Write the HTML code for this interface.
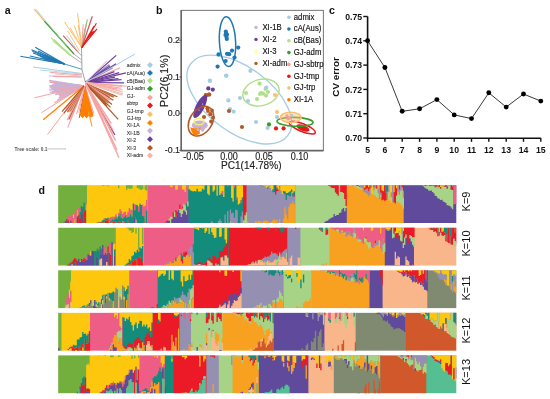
<!DOCTYPE html>
<html><head><meta charset="utf-8"><style>
html,body{margin:0;padding:0;background:#fff;}
svg{display:block;filter:blur(0.3px);font-family:"Liberation Sans",sans-serif;}
</style></head><body>
<svg width="550" height="399" viewBox="0 0 550 399">
<rect width="550" height="399" fill="#fff"/>
<g font-weight="bold" font-size="10.6" fill="#111">
<text x="4.8" y="13.9">a</text><text x="155.9" y="13.8">b</text><text x="328.9" y="13.9">c</text><text x="38.5" y="194.2">d</text>
</g>
<g>
<line x1="85.5" y1="82.5" x2="82.0" y2="70.0" stroke="#9a9a9a" stroke-width="0.90"/>
<line x1="82.0" y1="70.0" x2="81.5" y2="47.6" stroke="#9a9a9a" stroke-width="0.90"/>
<line x1="81.8" y1="47.6" x2="64.4" y2="21.9" stroke="#fdbf6f" stroke-width="1.00"/>
<line x1="81.8" y1="47.6" x2="70.0" y2="27.6" stroke="#fdbf6f" stroke-width="1.00"/>
<line x1="81.8" y1="47.6" x2="74.4" y2="25.7" stroke="#fdbf6f" stroke-width="1.00"/>
<line x1="81.8" y1="47.6" x2="77.6" y2="13.1" stroke="#fdbf6f" stroke-width="1.00"/>
<line x1="81.8" y1="47.6" x2="78.2" y2="25.0" stroke="#fdbf6f" stroke-width="1.00"/>
<line x1="81.8" y1="47.6" x2="83.2" y2="24.4" stroke="#f8a3a2" stroke-width="1.10"/>
<line x1="81.8" y1="47.6" x2="86.3" y2="23.8" stroke="#f8a3a2" stroke-width="1.10"/>
<line x1="81.8" y1="47.6" x2="85.0" y2="28.0" stroke="#f8a3a2" stroke-width="1.10"/>
<line x1="81.8" y1="47.6" x2="87.3" y2="19.4" stroke="#8fbf7a" stroke-width="1.10"/>
<line x1="81.8" y1="47.6" x2="92.3" y2="16.3" stroke="#d9505a" stroke-width="1.20"/>
<line x1="81.8" y1="47.6" x2="96.4" y2="23.2" stroke="#e31a1c" stroke-width="1.10"/>
<line x1="81.8" y1="47.6" x2="97.0" y2="28.8" stroke="#e31a1c" stroke-width="1.10"/>
<line x1="81.8" y1="47.6" x2="94.0" y2="26.0" stroke="#e31a1c" stroke-width="1.10"/>
<polygon points="84,43 91,32 96.5,30" fill="#e31a1c"/>
<line x1="34.2" y1="9.0" x2="44.3" y2="21.0" stroke="#fdbf6f" stroke-width="1.20"/>
<line x1="44.3" y1="21.0" x2="74.0" y2="54.0" stroke="#33a02c" stroke-width="1.20"/>
<line x1="74.0" y1="54.0" x2="81.7" y2="60.0" stroke="#9a9a9a" stroke-width="0.80"/>
<line x1="36.2" y1="9.5" x2="46.0" y2="21.5" stroke="#a6cee3" stroke-width="0.90"/>
<line x1="46.0" y1="21.5" x2="66.5" y2="46.0" stroke="#9cc38a" stroke-width="0.80"/>
<line x1="51.0" y1="37.6" x2="70.0" y2="55.0" stroke="#b2df8a" stroke-width="1.10"/>
<line x1="52.6" y1="40.6" x2="70.0" y2="55.0" stroke="#b2df8a" stroke-width="1.10"/>
<line x1="54.0" y1="39.5" x2="70.0" y2="55.0" stroke="#b2df8a" stroke-width="1.10"/>
<line x1="56.0" y1="42.0" x2="70.0" y2="55.0" stroke="#b2df8a" stroke-width="1.10"/>
<line x1="70.0" y1="55.0" x2="81.8" y2="63.0" stroke="#9a9a9a" stroke-width="0.80"/>
<line x1="63.1" y1="35.7" x2="78.0" y2="52.0" stroke="#d9505a" stroke-width="1.10"/>
<line x1="67.0" y1="35.7" x2="79.0" y2="53.0" stroke="#a6cee3" stroke-width="1.00"/>
<line x1="67.5" y1="30.7" x2="79.5" y2="51.0" stroke="#fdbf6f" stroke-width="0.90"/>
<line x1="78.0" y1="52.0" x2="81.8" y2="56.0" stroke="#9a9a9a" stroke-width="0.80"/>
<line x1="20.3" y1="56.2" x2="64.6" y2="64.0" stroke="#1f78b4" stroke-width="1.10"/>
<line x1="31.5" y1="49.8" x2="64.6" y2="64.0" stroke="#1f78b4" stroke-width="1.10"/>
<line x1="32.3" y1="51.3" x2="64.6" y2="64.0" stroke="#1f78b4" stroke-width="1.10"/>
<line x1="35.3" y1="47.2" x2="64.6" y2="64.0" stroke="#1f78b4" stroke-width="1.10"/>
<line x1="37.6" y1="55.0" x2="64.6" y2="64.0" stroke="#1f78b4" stroke-width="1.10"/>
<line x1="39.8" y1="56.5" x2="64.6" y2="64.0" stroke="#1f78b4" stroke-width="1.10"/>
<line x1="33.0" y1="53.0" x2="64.6" y2="64.0" stroke="#1f78b4" stroke-width="1.10"/>
<line x1="42.0" y1="58.0" x2="64.6" y2="64.0" stroke="#1f78b4" stroke-width="1.10"/>
<line x1="45.0" y1="60.0" x2="64.6" y2="64.0" stroke="#1f78b4" stroke-width="1.10"/>
<line x1="38.0" y1="51.0" x2="64.6" y2="64.0" stroke="#1f78b4" stroke-width="1.10"/>
<line x1="30.0" y1="56.0" x2="64.6" y2="64.0" stroke="#1f78b4" stroke-width="1.10"/>
<line x1="44.0" y1="55.0" x2="64.6" y2="64.0" stroke="#1f78b4" stroke-width="1.10"/>
<line x1="48.0" y1="58.0" x2="64.6" y2="64.0" stroke="#1f78b4" stroke-width="1.10"/>
<line x1="64.6" y1="64.0" x2="82.0" y2="69.3" stroke="#5b95c0" stroke-width="1.00"/>
<line x1="33.0" y1="67.0" x2="82.0" y2="73.5" stroke="#a6cee3" stroke-width="1.10"/>
<line x1="48.8" y1="76.0" x2="82.0" y2="77.0" stroke="#a6cee3" stroke-width="1.00"/>
<line x1="40.0" y1="70.0" x2="82.0" y2="74.0" stroke="#a6cee3" stroke-width="0.80"/>
<line x1="49.6" y1="72.3" x2="82.0" y2="75.0" stroke="#f8a3a2" stroke-width="1.00"/>
<line x1="53.3" y1="76.4" x2="82.0" y2="77.0" stroke="#f8a3a2" stroke-width="1.10"/>
<line x1="55.0" y1="74.0" x2="82.0" y2="76.0" stroke="#e7c4c4" stroke-width="1.00"/>
<line x1="84.0" y1="86.0" x2="52.2" y2="92.6" stroke="#f8a3a2" stroke-width="1.30"/>
<line x1="84.0" y1="86.0" x2="49.7" y2="92.3" stroke="#cab2d6" stroke-width="1.30"/>
<line x1="84.0" y1="86.0" x2="52.3" y2="91.3" stroke="#cab2d6" stroke-width="1.30"/>
<line x1="84.0" y1="86.0" x2="53.9" y2="90.4" stroke="#cab2d6" stroke-width="1.30"/>
<line x1="84.0" y1="86.0" x2="49.1" y2="90.1" stroke="#cab2d6" stroke-width="1.30"/>
<line x1="84.0" y1="86.0" x2="53.0" y2="89.0" stroke="#f8a3a2" stroke-width="1.30"/>
<line x1="84.0" y1="86.0" x2="51.2" y2="88.4" stroke="#cab2d6" stroke-width="1.30"/>
<line x1="84.0" y1="86.0" x2="49.4" y2="87.8" stroke="#cab2d6" stroke-width="1.30"/>
<line x1="84.0" y1="86.0" x2="54.5" y2="87.1" stroke="#cab2d6" stroke-width="1.30"/>
<line x1="84.0" y1="86.0" x2="49.8" y2="86.3" stroke="#cab2d6" stroke-width="1.30"/>
<line x1="84.0" y1="86.0" x2="49.3" y2="85.7" stroke="#cab2d6" stroke-width="1.30"/>
<line x1="84.0" y1="86.0" x2="52.0" y2="84.9" stroke="#cab2d6" stroke-width="1.30"/>
<line x1="84.0" y1="86.0" x2="53.8" y2="84.4" stroke="#cab2d6" stroke-width="1.30"/>
<line x1="84.0" y1="86.0" x2="53.6" y2="83.7" stroke="#cab2d6" stroke-width="1.30"/>
<line x1="84.0" y1="86.0" x2="55.9" y2="83.3" stroke="#cab2d6" stroke-width="1.30"/>
<line x1="84.0" y1="86.0" x2="49.5" y2="82.0" stroke="#f8a3a2" stroke-width="1.30"/>
<line x1="84.0" y1="86.0" x2="56.1" y2="82.3" stroke="#cab2d6" stroke-width="1.30"/>
<line x1="84.0" y1="86.0" x2="49.0" y2="80.5" stroke="#cab2d6" stroke-width="1.30"/>
<line x1="84.0" y1="86.0" x2="54.5" y2="102.7" stroke="#f8a3a2" stroke-width="1.20"/>
<line x1="84.0" y1="86.0" x2="57.0" y2="100.2" stroke="#cab2d6" stroke-width="1.20"/>
<line x1="84.0" y1="86.0" x2="58.6" y2="98.1" stroke="#cab2d6" stroke-width="1.20"/>
<line x1="84.0" y1="86.0" x2="60.2" y2="96.7" stroke="#f8a3a2" stroke-width="1.20"/>
<line x1="84.0" y1="86.0" x2="59.0" y2="96.1" stroke="#cab2d6" stroke-width="1.20"/>
<line x1="84.0" y1="86.0" x2="59.5" y2="95.0" stroke="#f8a3a2" stroke-width="1.20"/>
<line x1="84.0" y1="86.0" x2="58.0" y2="94.6" stroke="#cab2d6" stroke-width="1.20"/>
<line x1="84.0" y1="86.0" x2="55.3" y2="94.9" stroke="#cab2d6" stroke-width="1.20"/>
<line x1="84.0" y1="86.0" x2="55.6" y2="93.5" stroke="#f8a3a2" stroke-width="1.20"/>
<line x1="84.0" y1="86.0" x2="55.5" y2="92.9" stroke="#cab2d6" stroke-width="1.20"/>
<line x1="84.0" y1="86.0" x2="34.4" y2="97.8" stroke="#f8a3a2" stroke-width="1.00"/>
<line x1="84.0" y1="86.0" x2="41.4" y2="112.7" stroke="#f8a3a2" stroke-width="1.00"/>
<line x1="84.0" y1="86.0" x2="43.2" y2="119.7" stroke="#ff7f00" stroke-width="1.20"/>
<line x1="84.0" y1="86.0" x2="47.5" y2="134.6" stroke="#f8a3a2" stroke-width="1.00"/>
<line x1="84.0" y1="86.0" x2="67.7" y2="127.6" stroke="#f8a3a2" stroke-width="1.10"/>
<line x1="84.0" y1="86.0" x2="70.3" y2="120.0" stroke="#f8a3a2" stroke-width="1.20"/>
<line x1="84.0" y1="86.0" x2="68.8" y2="119.6" stroke="#b15928" stroke-width="1.20"/>
<line x1="84.0" y1="86.0" x2="67.2" y2="120.1" stroke="#f8a3a2" stroke-width="1.20"/>
<line x1="84.0" y1="86.0" x2="70.0" y2="111.4" stroke="#b15928" stroke-width="1.20"/>
<line x1="84.0" y1="86.0" x2="68.6" y2="112.4" stroke="#f8a3a2" stroke-width="1.20"/>
<line x1="84.0" y1="86.0" x2="67.4" y2="112.1" stroke="#b15928" stroke-width="1.20"/>
<line x1="84.0" y1="86.0" x2="67.1" y2="110.9" stroke="#f8a3a2" stroke-width="1.20"/>
<line x1="84.0" y1="86.0" x2="63.9" y2="113.4" stroke="#b15928" stroke-width="1.20"/>
<line x1="84.0" y1="86.0" x2="65.7" y2="108.8" stroke="#f8a3a2" stroke-width="1.20"/>
<line x1="84.0" y1="86.0" x2="62.0" y2="111.6" stroke="#b15928" stroke-width="1.20"/>
<line x1="85.0" y1="86.0" x2="93.8" y2="113.5" stroke="#f8a3a2" stroke-width="1.10"/>
<line x1="85.0" y1="86.0" x2="92.6" y2="114.5" stroke="#f8a3a2" stroke-width="1.10"/>
<line x1="85.0" y1="86.0" x2="92.6" y2="116.9" stroke="#f8a3a2" stroke-width="1.10"/>
<line x1="85.0" y1="86.0" x2="90.9" y2="115.8" stroke="#f8a3a2" stroke-width="1.10"/>
<line x1="85.0" y1="86.0" x2="89.9" y2="116.1" stroke="#f8a3a2" stroke-width="1.10"/>
<line x1="85.0" y1="86.0" x2="83.8" y2="115.6" stroke="#b15928" stroke-width="1.00"/>
<line x1="85.0" y1="86.0" x2="81.7" y2="116.8" stroke="#b15928" stroke-width="1.00"/>
<line x1="85.0" y1="86.0" x2="79.3" y2="117.8" stroke="#b15928" stroke-width="1.00"/>
<line x1="85.0" y1="86.0" x2="78.7" y2="112.5" stroke="#f8a3a2" stroke-width="1.00"/>
<line x1="85.0" y1="86.0" x2="76.6" y2="114.1" stroke="#f8a3a2" stroke-width="1.00"/>
<line x1="85.5" y1="82.5" x2="116.2" y2="55.4" stroke="#6a3d9a" stroke-width="1.25"/>
<line x1="85.5" y1="82.5" x2="109.3" y2="64.5" stroke="#9b88c5" stroke-width="1.25"/>
<line x1="85.5" y1="82.5" x2="110.1" y2="65.7" stroke="#6a3d9a" stroke-width="1.25"/>
<line x1="85.5" y1="82.5" x2="116.2" y2="63.9" stroke="#6a3d9a" stroke-width="1.25"/>
<line x1="85.5" y1="82.5" x2="112.6" y2="67.9" stroke="#9b88c5" stroke-width="1.25"/>
<line x1="85.5" y1="82.5" x2="120.0" y2="67.8" stroke="#f8a3a2" stroke-width="1.25"/>
<line x1="85.5" y1="82.5" x2="114.4" y2="71.7" stroke="#6a3d9a" stroke-width="1.25"/>
<line x1="85.5" y1="82.5" x2="119.2" y2="72.6" stroke="#6a3d9a" stroke-width="1.25"/>
<line x1="85.5" y1="82.5" x2="125.9" y2="72.8" stroke="#6a3d9a" stroke-width="1.25"/>
<line x1="85.5" y1="82.5" x2="115.0" y2="77.1" stroke="#6a3d9a" stroke-width="1.25"/>
<line x1="85.5" y1="82.5" x2="118.4" y2="78.6" stroke="#6a3d9a" stroke-width="1.25"/>
<line x1="85.5" y1="82.5" x2="121.5" y2="79.6" stroke="#6a3d9a" stroke-width="1.25"/>
<line x1="85.5" y1="82.5" x2="124.1" y2="82.8" stroke="#6a3d9a" stroke-width="1.25"/>
<line x1="85.5" y1="82.5" x2="135.0" y2="54.0" stroke="#a6cee3" stroke-width="1.00"/>
<line x1="85.5" y1="82.5" x2="107.0" y2="60.6" stroke="#f8a3a2" stroke-width="1.00"/>
<line x1="85.5" y1="82.5" x2="126.5" y2="86.1" stroke="#f3b9b0" stroke-width="1.10"/>
<line x1="85.5" y1="82.5" x2="122.0" y2="86.4" stroke="#f8a3a2" stroke-width="1.10"/>
<line x1="85.5" y1="82.5" x2="121.2" y2="88.2" stroke="#f8a3a2" stroke-width="1.10"/>
<line x1="85.5" y1="82.5" x2="122.5" y2="89.7" stroke="#f3b9b0" stroke-width="1.10"/>
<line x1="85.5" y1="82.5" x2="116.9" y2="89.4" stroke="#f8a3a2" stroke-width="1.10"/>
<line x1="85.5" y1="82.5" x2="122.7" y2="91.9" stroke="#f3b9b0" stroke-width="1.10"/>
<line x1="85.5" y1="82.5" x2="123.1" y2="94.0" stroke="#f3b9b0" stroke-width="1.10"/>
<line x1="85.5" y1="82.5" x2="122.3" y2="95.3" stroke="#f3b9b0" stroke-width="1.10"/>
<line x1="85.5" y1="83.5" x2="117.4" y2="96.7" stroke="#b15928" stroke-width="1.20"/>
<line x1="85.5" y1="83.5" x2="114.3" y2="96.5" stroke="#c87a4a" stroke-width="1.20"/>
<line x1="85.5" y1="83.5" x2="113.6" y2="97.3" stroke="#b15928" stroke-width="1.20"/>
<line x1="85.5" y1="83.5" x2="110.2" y2="96.7" stroke="#f8a3a2" stroke-width="1.20"/>
<line x1="85.5" y1="83.5" x2="109.2" y2="96.7" stroke="#c87a4a" stroke-width="1.20"/>
<line x1="85.5" y1="83.5" x2="113.4" y2="100.2" stroke="#b15928" stroke-width="1.20"/>
<line x1="85.5" y1="83.5" x2="110.7" y2="100.0" stroke="#f8a3a2" stroke-width="1.20"/>
<line x1="85.5" y1="83.5" x2="109.5" y2="100.1" stroke="#f8a3a2" stroke-width="1.20"/>
<line x1="85.5" y1="83.5" x2="108.6" y2="100.6" stroke="#f8a3a2" stroke-width="1.20"/>
<line x1="85.5" y1="83.5" x2="112.0" y2="104.5" stroke="#b15928" stroke-width="1.20"/>
<line x1="85.5" y1="83.5" x2="108.7" y2="103.2" stroke="#c87a4a" stroke-width="1.20"/>
<line x1="85.5" y1="83.5" x2="106.7" y2="102.1" stroke="#c87a4a" stroke-width="1.20"/>
<line x1="85.5" y1="83.5" x2="110.6" y2="107.4" stroke="#b15928" stroke-width="1.20"/>
<line x1="85.5" y1="83.5" x2="106.2" y2="104.5" stroke="#b15928" stroke-width="1.20"/>
<line x1="85.5" y1="83.5" x2="107.1" y2="106.1" stroke="#b15928" stroke-width="1.20"/>
<line x1="85.5" y1="83.5" x2="118.2" y2="119.4" stroke="#b15928" stroke-width="1.20"/>
<line x1="85.6" y1="83.5" x2="114.9" y2="134.9" stroke="#6a3d9a" stroke-width="1.10"/>
<line x1="85.6" y1="83.5" x2="119.0" y2="157.7" stroke="#f8a3a2" stroke-width="1.40"/>
<line x1="85.6" y1="83.5" x2="115.7" y2="140.6" stroke="#f8a3a2" stroke-width="1.30"/>
<line x1="85.6" y1="83.5" x2="117.0" y2="150.0" stroke="#f8a3a2" stroke-width="1.30"/>
<line x1="85.6" y1="83.5" x2="111.4" y2="123.6" stroke="#f8a3a2" stroke-width="1.20"/>
<line x1="85.6" y1="83.5" x2="113.2" y2="130.3" stroke="#f8a3a2" stroke-width="1.20"/>
<line x1="85.6" y1="83.5" x2="112.6" y2="133.2" stroke="#f8a3a2" stroke-width="1.20"/>
<line x1="85.6" y1="83.5" x2="103.0" y2="120.4" stroke="#f8a3a2" stroke-width="1.20"/>
<polygon points="85.2,87 79.5,117 81,115.5 82.5,118.5 84.5,116 86.5,118.5 88.5,116 90.5,117.5 93.5,115.5" fill="#ff7f00"/>
<line x1="88.5" y1="112.0" x2="92.0" y2="126.4" stroke="#f0a030" stroke-width="1.10"/>
</g>
<text transform="translate(126.8 67.4) scale(0.9 1)" font-size="5.7" fill="#3a3a3a" stroke="#3a3a3a" stroke-width="0.12">admix</text>
<rect x="-2.1" y="-2.1" width="4.2" height="4.2" fill="#a6cee3" transform="translate(150 65.0) rotate(45)"/>
<text transform="translate(126.8 75.3) scale(0.9 1)" font-size="5.7" fill="#3a3a3a" stroke="#3a3a3a" stroke-width="0.12">cA(Aus)</text>
<rect x="-2.1" y="-2.1" width="4.2" height="4.2" fill="#1f78b4" transform="translate(150 72.9) rotate(45)"/>
<text transform="translate(126.8 82.7) scale(0.9 1)" font-size="5.7" fill="#3a3a3a" stroke="#3a3a3a" stroke-width="0.12">cB(Bas)</text>
<rect x="-2.1" y="-2.1" width="4.2" height="4.2" fill="#b2df8a" transform="translate(150 80.8) rotate(45)"/>
<text transform="translate(126.8 90.3) scale(0.9 1)" font-size="5.7" fill="#3a3a3a" stroke="#3a3a3a" stroke-width="0.12">GJ-adm</text>
<rect x="-2.1" y="-2.1" width="4.2" height="4.2" fill="#33a02c" transform="translate(150 88.7) rotate(45)"/>
<text transform="translate(126.8 97.7) scale(0.9 1)" font-size="5.7" fill="#3a3a3a" stroke="#3a3a3a" stroke-width="0.12">GJ-</text>
<rect x="-2.1" y="-2.1" width="4.2" height="4.2" fill="#f8a3a2" transform="translate(150 97.6) rotate(45)"/>
<text transform="translate(126.8 105.1) scale(0.9 1)" font-size="5.7" fill="#3a3a3a" stroke="#3a3a3a" stroke-width="0.12">sbtrp</text>
<text transform="translate(126.8 112.9) scale(0.9 1)" font-size="5.7" fill="#3a3a3a" stroke="#3a3a3a" stroke-width="0.12">GJ-tmp</text>
<rect x="-2.1" y="-2.1" width="4.2" height="4.2" fill="#e31a1c" transform="translate(150 105.5) rotate(45)"/>
<text transform="translate(126.8 120.1) scale(0.9 1)" font-size="5.7" fill="#3a3a3a" stroke="#3a3a3a" stroke-width="0.12">GJ-trp</text>
<rect x="-2.1" y="-2.1" width="4.2" height="4.2" fill="#fdbf6f" transform="translate(150 114.2) rotate(45)"/>
<text transform="translate(126.8 127.4) scale(0.9 1)" font-size="5.7" fill="#3a3a3a" stroke="#3a3a3a" stroke-width="0.12">XI-1A</text>
<rect x="-2.1" y="-2.1" width="4.2" height="4.2" fill="#ff7f00" transform="translate(150 122.9) rotate(45)"/>
<text transform="translate(126.8 135.1) scale(0.9 1)" font-size="5.7" fill="#3a3a3a" stroke="#3a3a3a" stroke-width="0.12">XI-1B</text>
<rect x="-2.1" y="-2.1" width="4.2" height="4.2" fill="#cab2d6" transform="translate(150 130.8) rotate(45)"/>
<text transform="translate(126.8 142.4) scale(0.9 1)" font-size="5.7" fill="#3a3a3a" stroke="#3a3a3a" stroke-width="0.12">XI-2</text>
<rect x="-2.1" y="-2.1" width="4.2" height="4.2" fill="#6a3d9a" transform="translate(150 139.2) rotate(45)"/>
<text transform="translate(126.8 149.8) scale(0.9 1)" font-size="5.7" fill="#3a3a3a" stroke="#3a3a3a" stroke-width="0.12">XI-3</text>
<rect x="-2.1" y="-2.1" width="4.2" height="4.2" fill="#b15928" transform="translate(150 147.9) rotate(45)"/>
<text transform="translate(126.8 157.2) scale(0.9 1)" font-size="5.7" fill="#3a3a3a" stroke="#3a3a3a" stroke-width="0.12">XI-adm</text>
<rect x="-2.1" y="-2.1" width="4.2" height="4.2" fill="#f6b2b0" transform="translate(150 155.5) rotate(45)"/>
<text x="14.6" y="150.9" font-size="4.8" font-weight="bold" fill="#555">Tree scale: 0.1</text>
<line x1="47.4" y1="148.9" x2="65.6" y2="148.9" stroke="#c4c4c4" stroke-width="1"/>
<line x1="65.4" y1="147.9" x2="65.4" y2="149.9" stroke="#c4c4c4" stroke-width="0.6"/>
<rect x="181.3" y="10.3" width="142" height="140.2" fill="none" stroke="#555" stroke-width="0.8"/>
<path d="M181.2 10 V150.6 H323.5" fill="none" stroke="#666" stroke-width="1.6"/>
<text transform="translate(180.0 42.9) scale(0.92 1)" font-size="9.6" text-anchor="end" fill="#222" stroke="#222" stroke-width="0.15">0.2</text>
<line x1="179.3" y1="40.3" x2="181.3" y2="40.3" stroke="#444" stroke-width="0.8"/>
<text transform="translate(180.0 79.6) scale(0.92 1)" font-size="9.6" text-anchor="end" fill="#222" stroke="#222" stroke-width="0.15">0.1</text>
<line x1="179.3" y1="77.0" x2="181.3" y2="77.0" stroke="#444" stroke-width="0.8"/>
<text transform="translate(180.0 116.2) scale(0.92 1)" font-size="9.6" text-anchor="end" fill="#222" stroke="#222" stroke-width="0.15">0.0</text>
<line x1="179.3" y1="113.6" x2="181.3" y2="113.6" stroke="#444" stroke-width="0.8"/>
<text transform="translate(180.0 152.9) scale(0.92 1)" font-size="9.6" text-anchor="end" fill="#222" stroke="#222" stroke-width="0.15">-0.1</text>
<line x1="179.3" y1="150.3" x2="181.3" y2="150.3" stroke="#444" stroke-width="0.8"/>
<text transform="translate(193.5 159.7) scale(0.905 1)" font-size="10" text-anchor="middle" fill="#222" stroke="#222" stroke-width="0.15">-0.05</text>
<text transform="translate(229.0 159.7) scale(0.905 1)" font-size="10" text-anchor="middle" fill="#222" stroke="#222" stroke-width="0.15">0.00</text>
<text transform="translate(264.0 159.7) scale(0.905 1)" font-size="10" text-anchor="middle" fill="#222" stroke="#222" stroke-width="0.15">0.05</text>
<text transform="translate(299.5 159.7) scale(0.905 1)" font-size="10" text-anchor="middle" fill="#222" stroke="#222" stroke-width="0.15">0.10</text>
<text transform="translate(251.2 168.8) scale(0.953 1)" font-size="10.6" text-anchor="middle" fill="#222" stroke="#222" stroke-width="0.15">PC1(14.78%)</text>
<text transform="translate(168.4 80.8) rotate(-90)" font-size="10.7" text-anchor="middle" fill="#222" stroke="#222" stroke-width="0.15">PC2(6.1%)</text>
<ellipse cx="239.3" cy="99.6" rx="60.4" ry="32.5" transform="rotate(36.4 239.3 99.6)" fill="none" stroke="#a6cee3" stroke-width="1.4"/>
<ellipse cx="261" cy="92.5" rx="18.5" ry="13" transform="rotate(-15 261 92.5)" fill="none" stroke="#b2df8a" stroke-width="1.4"/>
<ellipse cx="227.5" cy="41.6" rx="8.1" ry="25" transform="rotate(-3 227.5 41.6)" fill="none" stroke="#1f78b4" stroke-width="1.5"/>
<circle cx="226.0" cy="33.0" r="2.1" fill="#1f78b4"/>
<circle cx="225.5" cy="35.0" r="2.1" fill="#1f78b4"/>
<circle cx="226.5" cy="37.0" r="2.1" fill="#1f78b4"/>
<circle cx="227.0" cy="34.5" r="2.1" fill="#1f78b4"/>
<circle cx="225.8" cy="31.5" r="2.1" fill="#1f78b4"/>
<circle cx="226.8" cy="39.0" r="2.1" fill="#1f78b4"/>
<circle cx="238.2" cy="47.6" r="2.1" fill="#1f78b4"/>
<circle cx="232.0" cy="50.6" r="2.1" fill="#1f78b4"/>
<circle cx="227.0" cy="53.8" r="2.1" fill="#1f78b4"/>
<circle cx="229.2" cy="54.2" r="2.1" fill="#1f78b4"/>
<circle cx="218.5" cy="54.4" r="2.1" fill="#1f78b4"/>
<circle cx="234.5" cy="57.6" r="2.1" fill="#1f78b4"/>
<circle cx="225.6" cy="61.0" r="2.1" fill="#1f78b4"/>
<circle cx="217.6" cy="66.6" r="2.1" fill="#1f78b4"/>
<circle cx="210.0" cy="81.0" r="2.1" fill="#a6cee3"/>
<circle cx="226.0" cy="75.6" r="2.1" fill="#a6cee3"/>
<circle cx="228.4" cy="100.4" r="2.1" fill="#a6cee3"/>
<circle cx="240.0" cy="98.0" r="2.1" fill="#a6cee3"/>
<circle cx="230.0" cy="109.0" r="2.1" fill="#a6cee3"/>
<circle cx="233.6" cy="111.6" r="2.1" fill="#a6cee3"/>
<circle cx="248.0" cy="101.0" r="2.1" fill="#a6cee3"/>
<circle cx="256.0" cy="122.0" r="2.1" fill="#a6cee3"/>
<circle cx="267.6" cy="128.0" r="2.1" fill="#a6cee3"/>
<circle cx="277.0" cy="117.0" r="2.1" fill="#a6cee3"/>
<circle cx="250.4" cy="70.8" r="2.1" fill="#a6cee3"/>
<circle cx="226.4" cy="75.8" r="2.1" fill="#a6cee3"/>
<circle cx="209.8" cy="80.6" r="2.1" fill="#a6cee3"/>
<circle cx="259.6" cy="83.6" r="2.1" fill="#b2df8a"/>
<circle cx="265.6" cy="89.0" r="2.1" fill="#b2df8a"/>
<circle cx="261.0" cy="93.0" r="2.1" fill="#b2df8a"/>
<circle cx="266.0" cy="95.6" r="2.1" fill="#b2df8a"/>
<circle cx="257.0" cy="99.0" r="2.1" fill="#b2df8a"/>
<circle cx="263.0" cy="93.6" r="2.1" fill="#b2df8a"/>
<circle cx="246.0" cy="93.0" r="2.1" fill="#b2df8a"/>
<circle cx="260.0" cy="94.0" r="2.1" fill="#b2df8a"/>
<circle cx="268.0" cy="92.0" r="2.1" fill="#b2df8a"/>
<circle cx="208.3" cy="88.4" r="2.1" fill="#6a3d9a"/>
<circle cx="212.8" cy="89.6" r="2.1" fill="#6a3d9a"/>
<circle cx="229.0" cy="111.0" r="2.1" fill="#b15928"/>
<circle cx="242.0" cy="127.0" r="2.1" fill="#b15928"/>
<circle cx="209.0" cy="94.6" r="2.1" fill="#b15928"/>
<circle cx="206.0" cy="95.6" r="2.1" fill="#b15928"/>
<circle cx="205.8" cy="95.0" r="2.1" fill="#b15928"/>
<circle cx="209.2" cy="94.5" r="2.1" fill="#b15928"/>
<circle cx="207.5" cy="108.6" r="2.1" fill="#b15928"/>
<circle cx="204.0" cy="117.0" r="2.1" fill="#b15928"/>
<circle cx="210.4" cy="114.2" r="2.1" fill="#b15928"/>
<circle cx="212.0" cy="110.5" r="1.9" fill="#b15928"/>
<circle cx="213.0" cy="117.5" r="1.9" fill="#b15928"/>
<circle cx="211.0" cy="121.5" r="1.9" fill="#b15928"/>
<circle cx="208.0" cy="111.0" r="1.9" fill="#b15928"/>
<circle cx="266.3" cy="87.6" r="2.1" fill="#a6cee3"/>
<circle cx="276.0" cy="128.4" r="2.1" fill="#e31a1c"/>
<circle cx="283.6" cy="128.4" r="2.1" fill="#e31a1c"/>
<circle cx="269.0" cy="124.4" r="2.1" fill="#33a02c"/>
<circle cx="277.0" cy="112.0" r="2.1" fill="#fdbf6f"/>
<circle cx="275.0" cy="95.0" r="2.1" fill="#fdbf6f"/>
<ellipse cx="199.8" cy="125.2" rx="8" ry="4.6" fill="#cab2d6"/>
<path d="M190.3 127.2 L195 128.5 L201 127.5 L199.5 131 L200 133.5 Q197 135.8 193.5 135 Q190.8 131 190.3 127.2z" fill="#ff7f00"/>
<circle cx="198.0" cy="129.5" r="1.6" fill="#cab2d6"/>
<circle cx="202.5" cy="130.0" r="1.7" fill="#cab2d6"/>
<circle cx="203.0" cy="128.5" r="1.8" fill="#cab2d6"/>
<ellipse cx="200.2" cy="106.5" rx="12.8" ry="4.3" transform="rotate(-63 200.2 106.5)" fill="#6a3d9a"/>
<circle cx="202.5" cy="104.0" r="0.6" fill="#e6e0ee"/>
<circle cx="199.0" cy="110.0" r="0.6" fill="#e6e0ee"/>
<ellipse cx="201" cy="121.2" rx="16" ry="11.2" transform="rotate(-58 201 121.2)" fill="none" stroke="#b15928" stroke-width="1.5"/>
<ellipse cx="199" cy="121.5" rx="4.8" ry="3.3" fill="none" stroke="#f2f070" stroke-width="1.5"/>
<ellipse cx="302.3" cy="127.6" rx="14" ry="3.9" transform="rotate(22 302.3 127.6)" fill="none" stroke="#e31a1c" stroke-width="1.5"/>
<ellipse cx="303" cy="128" rx="7" ry="2.9" transform="rotate(22 303 128)" fill="#e31a1c"/>
<ellipse cx="295" cy="121.8" rx="18" ry="4.4" transform="rotate(2 295 121.8)" fill="none" stroke="#33a02c" stroke-width="1.6"/>
<ellipse cx="290.7" cy="117.4" rx="10.3" ry="5.1" fill="#fdbf6f" fill-opacity="0.45" stroke="#fdbf6f" stroke-width="1.5"/>
<circle cx="287.0" cy="116.0" r="1.7" fill="#fb9a99"/>
<circle cx="289.5" cy="118.0" r="1.7" fill="#fb9a99"/>
<circle cx="288.0" cy="119.0" r="1.6" fill="#fb9a99"/>
<circle cx="292.0" cy="115.5" r="1.4" fill="#a6cee3"/>
<circle cx="256.0" cy="27.4" r="1.7" fill="#cab2d6"/>
<text transform="translate(262.4 29.7) scale(0.946 1)" font-size="8.2" fill="#111" stroke="#111" stroke-width="0.15">XI-1B</text>
<circle cx="256.0" cy="39.4" r="1.7" fill="#6a3d9a"/>
<text transform="translate(262.4 41.7) scale(0.946 1)" font-size="8.2" fill="#111" stroke="#111" stroke-width="0.15">XI-2</text>
<circle cx="256.0" cy="51.4" r="1.7" fill="#ffff99"/>
<text transform="translate(262.4 53.7) scale(0.946 1)" font-size="8.2" fill="#111" stroke="#111" stroke-width="0.15">XI-3</text>
<circle cx="256.0" cy="63.4" r="1.7" fill="#b15928"/>
<text transform="translate(262.4 65.7) scale(0.946 1)" font-size="8.2" fill="#111" stroke="#111" stroke-width="0.15">XI-adm</text>
<circle cx="288.9" cy="17.2" r="1.8" fill="#a6cee3"/>
<text transform="translate(293.8 19.5) scale(0.946 1)" font-size="8.2" fill="#111" stroke="#111" stroke-width="0.15">admix</text>
<circle cx="288.9" cy="29.0" r="1.8" fill="#1f78b4"/>
<text transform="translate(293.8 31.3) scale(0.946 1)" font-size="8.2" fill="#111" stroke="#111" stroke-width="0.15">cA(Aus)</text>
<circle cx="288.9" cy="40.8" r="1.8" fill="#b2df8a"/>
<text transform="translate(293.8 43.1) scale(0.946 1)" font-size="8.2" fill="#111" stroke="#111" stroke-width="0.15">cB(Bas)</text>
<circle cx="288.9" cy="52.6" r="1.8" fill="#33a02c"/>
<text transform="translate(293.8 54.9) scale(0.946 1)" font-size="8.2" fill="#111" stroke="#111" stroke-width="0.15">GJ-adm</text>
<circle cx="288.9" cy="64.4" r="1.8" fill="#fb9a99"/>
<text transform="translate(293.8 66.7) scale(0.946 1)" font-size="8.2" fill="#111" stroke="#111" stroke-width="0.15">GJ-sbtrp</text>
<circle cx="288.9" cy="76.2" r="1.8" fill="#e31a1c"/>
<text transform="translate(293.8 78.5) scale(0.946 1)" font-size="8.2" fill="#111" stroke="#111" stroke-width="0.15">GJ-tmp</text>
<circle cx="288.9" cy="88.0" r="1.8" fill="#fdbf6f"/>
<text transform="translate(293.8 90.3) scale(0.946 1)" font-size="8.2" fill="#111" stroke="#111" stroke-width="0.15">GJ-trp</text>
<circle cx="288.9" cy="99.8" r="1.8" fill="#ff7f00"/>
<text transform="translate(293.8 102.1) scale(0.946 1)" font-size="8.2" fill="#111" stroke="#111" stroke-width="0.15">XI-1A</text>
<path d="M367.6 16.5 V138.3 H540.8" fill="none" stroke="#111" stroke-width="1.6"/>
<line x1="363.3" y1="138.0" x2="367.6" y2="138.0" stroke="#111" stroke-width="1.4"/>
<text x="362.2" y="141.1" font-size="8.7" font-weight="bold" text-anchor="end" fill="#111">0.70</text>
<line x1="363.3" y1="113.7" x2="367.6" y2="113.7" stroke="#111" stroke-width="1.4"/>
<text x="362.2" y="116.8" font-size="8.7" font-weight="bold" text-anchor="end" fill="#111">0.71</text>
<line x1="363.3" y1="89.4" x2="367.6" y2="89.4" stroke="#111" stroke-width="1.4"/>
<text x="362.2" y="92.5" font-size="8.7" font-weight="bold" text-anchor="end" fill="#111">0.72</text>
<line x1="363.3" y1="65.1" x2="367.6" y2="65.1" stroke="#111" stroke-width="1.4"/>
<text x="362.2" y="68.2" font-size="8.7" font-weight="bold" text-anchor="end" fill="#111">0.73</text>
<line x1="363.3" y1="40.8" x2="367.6" y2="40.8" stroke="#111" stroke-width="1.4"/>
<text x="362.2" y="43.9" font-size="8.7" font-weight="bold" text-anchor="end" fill="#111">0.74</text>
<line x1="363.3" y1="16.5" x2="367.6" y2="16.5" stroke="#111" stroke-width="1.4"/>
<text x="362.2" y="19.6" font-size="8.7" font-weight="bold" text-anchor="end" fill="#111">0.75</text>
<line x1="367.6" y1="138" x2="367.6" y2="141.8" stroke="#111" stroke-width="1.4"/>
<text x="367.6" y="152.8" font-size="8.7" font-weight="bold" text-anchor="middle" fill="#111">5</text>
<line x1="384.9" y1="138" x2="384.9" y2="141.8" stroke="#111" stroke-width="1.4"/>
<text x="384.9" y="152.8" font-size="8.7" font-weight="bold" text-anchor="middle" fill="#111">6</text>
<line x1="402.2" y1="138" x2="402.2" y2="141.8" stroke="#111" stroke-width="1.4"/>
<text x="402.2" y="152.8" font-size="8.7" font-weight="bold" text-anchor="middle" fill="#111">7</text>
<line x1="419.6" y1="138" x2="419.6" y2="141.8" stroke="#111" stroke-width="1.4"/>
<text x="419.6" y="152.8" font-size="8.7" font-weight="bold" text-anchor="middle" fill="#111">8</text>
<line x1="436.9" y1="138" x2="436.9" y2="141.8" stroke="#111" stroke-width="1.4"/>
<text x="436.9" y="152.8" font-size="8.7" font-weight="bold" text-anchor="middle" fill="#111">9</text>
<line x1="454.2" y1="138" x2="454.2" y2="141.8" stroke="#111" stroke-width="1.4"/>
<text x="454.2" y="152.8" font-size="8.7" font-weight="bold" text-anchor="middle" fill="#111">10</text>
<line x1="471.5" y1="138" x2="471.5" y2="141.8" stroke="#111" stroke-width="1.4"/>
<text x="471.5" y="152.8" font-size="8.7" font-weight="bold" text-anchor="middle" fill="#111">11</text>
<line x1="488.8" y1="138" x2="488.8" y2="141.8" stroke="#111" stroke-width="1.4"/>
<text x="488.8" y="152.8" font-size="8.7" font-weight="bold" text-anchor="middle" fill="#111">12</text>
<line x1="506.2" y1="138" x2="506.2" y2="141.8" stroke="#111" stroke-width="1.4"/>
<text x="506.2" y="152.8" font-size="8.7" font-weight="bold" text-anchor="middle" fill="#111">13</text>
<line x1="523.5" y1="138" x2="523.5" y2="141.8" stroke="#111" stroke-width="1.4"/>
<text x="523.5" y="152.8" font-size="8.7" font-weight="bold" text-anchor="middle" fill="#111">14</text>
<line x1="540.8" y1="138" x2="540.8" y2="141.8" stroke="#111" stroke-width="1.4"/>
<text x="540.8" y="152.8" font-size="8.7" font-weight="bold" text-anchor="middle" fill="#111">15</text>
<polyline points="367.6,40.8 384.9,67.5 402.2,111.3 419.6,108.8 436.9,99.6 454.2,114.9 471.5,118.6 488.8,92.8 506.2,107.1 523.5,94.0 540.8,101.1" fill="none" stroke="#222" stroke-width="0.9"/>
<circle cx="367.6" cy="40.8" r="2.45" fill="#000"/>
<circle cx="384.9" cy="67.5" r="2.45" fill="#000"/>
<circle cx="402.2" cy="111.3" r="2.45" fill="#000"/>
<circle cx="419.6" cy="108.8" r="2.45" fill="#000"/>
<circle cx="436.9" cy="99.6" r="2.45" fill="#000"/>
<circle cx="454.2" cy="114.9" r="2.45" fill="#000"/>
<circle cx="471.5" cy="118.6" r="2.45" fill="#000"/>
<circle cx="488.8" cy="92.8" r="2.45" fill="#000"/>
<circle cx="506.2" cy="107.1" r="2.45" fill="#000"/>
<circle cx="523.5" cy="94.0" r="2.45" fill="#000"/>
<circle cx="540.8" cy="101.1" r="2.45" fill="#000"/>
<text transform="translate(339 77) rotate(-90)" font-size="9.9" font-weight="bold" text-anchor="middle" fill="#111">CV error</text>
<g>
<rect x="58.2" y="185.20" width="29.5" height="37.80" fill="#72af3d"/>
<rect x="87.0" y="185.20" width="61.2" height="37.80" fill="#fcc70c"/>
<rect x="147.5" y="185.20" width="41.4" height="37.80" fill="#ee5d85"/>
<rect x="188.2" y="185.20" width="55.5" height="37.80" fill="#138c7c"/>
<rect x="243.0" y="185.20" width="4.2" height="37.80" fill="#ec1a26"/>
<rect x="246.5" y="185.20" width="49.5" height="37.80" fill="#9590b1"/>
<rect x="295.3" y="185.20" width="51.6" height="37.80" fill="#a6d386"/>
<rect x="346.2" y="185.20" width="58.2" height="37.80" fill="#f8a01f"/>
<rect x="403.7" y="185.20" width="49.8" height="37.80" fill="#5f4a9b"/>
<rect x="452.8" y="185.20" width="3.5" height="37.80" fill="#5f4a9b"/>
<rect x="58.2" y="227.75" width="58.3" height="37.80" fill="#72af3d"/>
<rect x="115.8" y="227.75" width="28.7" height="37.80" fill="#fcc70c"/>
<rect x="143.8" y="227.75" width="50.9" height="37.80" fill="#ee5d85"/>
<rect x="194.0" y="227.75" width="35.7" height="37.80" fill="#138c7c"/>
<rect x="229.0" y="227.75" width="59.0" height="37.80" fill="#ec1a26"/>
<rect x="287.3" y="227.75" width="13.8" height="37.80" fill="#9590b1"/>
<rect x="300.4" y="227.75" width="29.8" height="37.80" fill="#a6d386"/>
<rect x="329.5" y="227.75" width="56.0" height="37.80" fill="#f8a01f"/>
<rect x="384.8" y="227.75" width="10.9" height="37.80" fill="#5f4a9b"/>
<rect x="395.0" y="227.75" width="12.7" height="37.80" fill="#5f4a9b"/>
<rect x="407.0" y="227.75" width="7.7" height="37.80" fill="#5f4a9b"/>
<rect x="414.0" y="227.75" width="42.3" height="37.80" fill="#f9b68b"/>
<rect x="58.2" y="270.30" width="13.5" height="37.80" fill="#72af3d"/>
<rect x="71.0" y="270.30" width="58.9" height="37.80" fill="#fcc70c"/>
<rect x="129.2" y="270.30" width="29.1" height="37.80" fill="#ee5d85"/>
<rect x="157.6" y="270.30" width="37.1" height="37.80" fill="#138c7c"/>
<rect x="194.0" y="270.30" width="48.1" height="37.80" fill="#ec1a26"/>
<rect x="241.4" y="270.30" width="42.9" height="37.80" fill="#9590b1"/>
<rect x="283.6" y="270.30" width="28.4" height="37.80" fill="#a6d386"/>
<rect x="311.3" y="270.30" width="58.9" height="37.80" fill="#f8a01f"/>
<rect x="369.5" y="270.30" width="10.9" height="37.80" fill="#5f4a9b"/>
<rect x="379.7" y="270.30" width="3.6" height="37.80" fill="#5f4a9b"/>
<rect x="382.6" y="270.30" width="45.4" height="37.80" fill="#f9b68b"/>
<rect x="427.3" y="270.30" width="29.0" height="37.80" fill="#7f8a71"/>
<rect x="58.2" y="312.85" width="4.0" height="37.80" fill="#72af3d"/>
<rect x="61.5" y="312.85" width="29.2" height="37.80" fill="#fcc70c"/>
<rect x="90.0" y="312.85" width="33.3" height="37.80" fill="#ee5d85"/>
<rect x="122.6" y="312.85" width="30.6" height="37.80" fill="#138c7c"/>
<rect x="152.5" y="312.85" width="27.7" height="37.80" fill="#ec1a26"/>
<rect x="179.5" y="312.85" width="12.2" height="37.80" fill="#9590b1"/>
<rect x="191.0" y="312.85" width="32.2" height="37.80" fill="#a6d386"/>
<rect x="222.5" y="312.85" width="51.6" height="37.80" fill="#f8a01f"/>
<rect x="273.4" y="312.85" width="51.7" height="37.80" fill="#5f4a9b"/>
<rect x="324.4" y="312.85" width="31.9" height="37.80" fill="#f9b68b"/>
<rect x="355.6" y="312.85" width="51.0" height="37.80" fill="#7f8a71"/>
<rect x="405.9" y="312.85" width="50.4" height="37.80" fill="#d1582b"/>
<rect x="58.2" y="355.40" width="28.0" height="37.80" fill="#72af3d"/>
<rect x="85.5" y="355.40" width="4.8" height="37.80" fill="#72af3d"/>
<rect x="89.6" y="355.40" width="50.6" height="37.80" fill="#fcc70c"/>
<rect x="139.5" y="355.40" width="26.2" height="37.80" fill="#ee5d85"/>
<rect x="165.0" y="355.40" width="9.3" height="37.80" fill="#138c7c"/>
<rect x="173.6" y="355.40" width="33.5" height="37.80" fill="#ec1a26"/>
<rect x="206.4" y="355.40" width="13.1" height="37.80" fill="#9590b1"/>
<rect x="218.8" y="355.40" width="14.5" height="37.80" fill="#a6d386"/>
<rect x="232.6" y="355.40" width="26.9" height="37.80" fill="#f8a01f"/>
<rect x="258.8" y="355.40" width="50.3" height="37.80" fill="#5f4a9b"/>
<rect x="308.4" y="355.40" width="26.1" height="37.80" fill="#f9b68b"/>
<rect x="333.8" y="355.40" width="47.4" height="37.80" fill="#7f8a71"/>
<rect x="380.5" y="355.40" width="46.5" height="37.80" fill="#d1582b"/>
<rect x="426.3" y="355.40" width="30.0" height="37.80" fill="#55be93"/>
<path fill="#72af3d" d="M102.09 185.20h1.33v0.69h-1.33zM103.42 185.20h1.33v0.21h-1.33zM104.75 185.20h1.33v0.19h-1.33zM107.41 185.20h1.33v1.17h-1.33zM118.05 185.20h1.33v3.10h-1.33zM126.03 185.20h1.33v4.44h-1.33zM127.36 185.20h1.33v3.04h-1.33zM128.69 185.20h1.33v3.66h-1.33zM130.02 185.20h1.33v3.50h-1.33zM131.35 185.20h1.33v3.19h-1.33zM136.67 185.20h1.33v2.80h-1.33zM138.00 185.20h1.33v3.18h-1.33zM139.33 185.20h1.33v4.24h-1.33zM140.66 185.20h1.33v4.76h-1.33zM141.99 185.20h1.33v4.14h-1.33zM144.65 185.20h1.33v4.52h-1.33zM145.98 185.20h1.33v5.46h-1.33zM126.03 227.75h1.33v0.34h-1.33zM127.36 227.75h1.33v0.71h-1.33zM128.69 227.75h1.33v2.63h-1.33zM130.02 227.75h1.33v2.91h-1.33zM131.35 227.75h1.33v5.28h-1.33zM132.68 227.75h1.33v4.37h-1.33zM135.34 227.75h1.33v5.95h-1.33zM138.00 227.75h1.33v21.95h-1.33zM141.99 227.75h1.33v16.61h-1.33zM326.86 227.75h1.33v1.58h-1.33zM96.77 355.40h1.33v0.21h-1.33zM98.10 355.40h1.33v0.31h-1.33zM99.43 355.40h1.33v0.31h-1.33zM103.42 355.40h1.33v0.41h-1.33zM104.75 355.40h1.33v0.49h-1.33zM110.07 355.40h1.33v1.61h-1.33zM111.40 355.40h1.33v1.98h-1.33zM112.73 355.40h1.33v1.12h-1.33zM118.05 355.40h1.33v1.65h-1.33zM119.38 355.40h1.33v1.04h-1.33zM131.35 355.40h1.33v3.68h-1.33zM134.01 355.40h1.33v2.85h-1.33zM138.00 355.40h1.33v2.33h-1.33zM171.25 355.40h1.33v3.04h-1.33z"/>
<path fill="#fcc70c" d="M72.83 214.45h1.33v3.79h-1.33zM86.13 204.45h1.33v18.55h-1.33zM169.92 185.20h1.33v1.55h-1.33zM171.25 185.20h1.33v2.01h-1.33zM175.24 185.20h1.33v4.50h-1.33zM176.57 185.20h1.33v4.40h-1.33zM181.89 185.20h1.33v4.09h-1.33zM183.22 185.20h1.33v4.62h-1.33zM184.55 185.20h1.33v6.83h-1.33zM188.54 185.20h1.33v4.07h-1.33zM189.87 185.20h1.33v5.03h-1.33zM191.20 185.20h1.33v5.92h-1.33zM192.53 185.20h1.33v6.18h-1.33zM193.86 185.20h1.33v5.77h-1.33zM195.19 185.20h1.33v6.22h-1.33zM196.52 185.20h1.33v3.53h-1.33zM197.85 185.20h1.33v6.23h-1.33zM199.18 185.20h1.33v6.21h-1.33zM200.51 185.20h1.33v6.26h-1.33zM201.84 185.20h1.33v3.44h-1.33zM203.17 185.20h1.33v4.53h-1.33zM207.16 185.20h1.33v8.55h-1.33zM208.49 185.20h1.33v10.05h-1.33zM212.48 185.20h1.33v6.58h-1.33zM213.81 185.20h1.33v5.17h-1.33zM216.47 185.20h1.33v10.43h-1.33zM219.13 185.20h1.33v9.90h-1.33zM220.46 185.20h1.33v8.33h-1.33zM221.79 185.20h1.33v5.80h-1.33zM223.12 185.20h1.33v11.87h-1.33zM231.10 185.20h1.33v12.89h-1.33zM232.43 185.20h1.33v16.27h-1.33zM236.42 185.20h1.33v12.30h-1.33zM237.75 185.20h1.33v19.22h-1.33zM239.08 185.20h1.33v18.20h-1.33zM240.41 185.20h1.33v14.96h-1.33zM241.74 185.20h1.33v12.09h-1.33zM257.70 185.20h1.33v0.06h-1.33zM259.03 185.20h1.33v0.13h-1.33zM260.36 185.20h1.33v0.49h-1.33zM261.69 185.20h1.33v0.64h-1.33zM263.02 185.20h1.33v0.76h-1.33zM264.35 185.20h1.33v1.15h-1.33zM265.68 185.20h1.33v2.43h-1.33zM267.01 185.20h1.33v2.14h-1.33zM268.34 185.20h1.33v1.41h-1.33zM269.67 185.20h1.33v2.69h-1.33zM271.00 185.20h1.33v5.23h-1.33zM272.33 185.20h1.33v4.42h-1.33zM276.32 185.20h1.33v2.19h-1.33zM277.65 185.20h1.33v4.54h-1.33zM278.98 185.20h1.33v1.19h-1.33zM280.31 185.20h1.33v5.22h-1.33zM281.64 185.20h1.33v8.89h-1.33zM282.97 185.20h1.33v5.83h-1.33zM284.30 185.20h1.33v6.29h-1.33zM285.63 185.20h1.33v8.03h-1.33zM286.96 185.20h1.33v7.90h-1.33zM288.29 185.20h1.33v6.97h-1.33zM289.62 185.20h1.33v6.16h-1.33zM290.95 185.20h1.33v4.33h-1.33zM292.28 185.20h1.33v7.80h-1.33zM293.61 185.20h1.33v6.32h-1.33zM358.78 185.20h1.33v0.92h-1.33zM364.10 185.20h1.33v2.66h-1.33zM368.09 185.20h1.33v2.13h-1.33zM372.08 185.20h1.33v9.06h-1.33zM377.40 185.20h1.33v3.65h-1.33zM381.39 185.20h1.33v5.24h-1.33zM382.72 185.20h1.33v6.06h-1.33zM389.37 185.20h1.33v15.61h-1.33zM390.70 185.20h1.33v7.42h-1.33zM393.36 185.20h1.33v6.88h-1.33zM396.02 185.20h1.33v2.96h-1.33zM423.95 185.20h1.33v0.19h-1.33zM431.93 185.20h1.33v0.22h-1.33zM437.25 185.20h1.33v2.41h-1.33zM439.91 185.20h1.33v1.85h-1.33zM441.24 185.20h1.33v1.61h-1.33zM442.57 185.20h1.33v1.86h-1.33zM443.90 185.20h1.33v0.84h-1.33zM446.56 185.20h1.33v1.18h-1.33zM451.88 185.20h1.33v1.31h-1.33zM66.18 265.07h1.33v0.17h-1.33zM79.48 260.82h1.33v1.13h-1.33zM90.12 251.17h1.33v4.68h-1.33zM112.73 244.44h1.33v21.11h-1.33zM114.06 243.57h1.33v5.83h-1.33zM193.86 227.75h1.33v0.66h-1.33zM195.19 227.75h1.33v1.05h-1.33zM196.52 227.75h1.33v1.43h-1.33zM197.85 227.75h1.33v2.39h-1.33zM201.84 227.75h1.33v0.71h-1.33zM204.50 227.75h1.33v5.37h-1.33zM205.83 227.75h1.33v3.42h-1.33zM208.49 227.75h1.33v6.23h-1.33zM211.15 227.75h1.33v4.43h-1.33zM212.48 227.75h1.33v7.32h-1.33zM213.81 227.75h1.33v10.36h-1.33zM215.14 227.75h1.33v9.67h-1.33zM219.13 227.75h1.33v9.31h-1.33zM220.46 227.75h1.33v8.84h-1.33zM224.45 227.75h1.33v11.83h-1.33zM225.78 227.75h1.33v15.61h-1.33zM362.77 227.75h1.33v2.73h-1.33zM370.75 227.75h1.33v3.29h-1.33zM372.08 227.75h1.33v2.72h-1.33zM380.06 227.75h1.33v5.80h-1.33zM385.38 227.75h1.33v1.40h-1.33zM386.71 227.75h1.33v1.60h-1.33zM388.04 227.75h1.33v1.66h-1.33zM389.37 227.75h1.33v1.13h-1.33zM396.02 227.75h1.33v5.46h-1.33zM397.35 227.75h1.33v5.23h-1.33zM398.68 227.75h1.33v3.74h-1.33zM400.01 227.75h1.33v6.14h-1.33zM402.67 227.75h1.33v3.45h-1.33zM427.94 227.75h1.33v0.46h-1.33zM429.27 227.75h1.33v0.68h-1.33zM438.58 227.75h1.33v4.36h-1.33zM441.24 227.75h1.33v4.17h-1.33zM442.57 227.75h1.33v3.54h-1.33zM64.85 305.59h1.33v0.50h-1.33zM68.84 289.82h1.33v8.55h-1.33zM70.17 281.40h1.33v9.46h-1.33zM149.97 270.30h1.33v0.71h-1.33zM157.95 270.30h1.33v6.89h-1.33zM159.28 270.30h1.33v5.73h-1.33zM160.61 270.30h1.33v3.84h-1.33zM161.94 270.30h1.33v3.20h-1.33zM163.27 270.30h1.33v5.70h-1.33zM164.60 270.30h1.33v4.14h-1.33zM168.59 270.30h1.33v9.63h-1.33zM171.25 270.30h1.33v8.39h-1.33zM172.58 270.30h1.33v9.93h-1.33zM180.56 270.30h1.33v11.25h-1.33zM181.89 270.30h1.33v16.09h-1.33zM183.22 270.30h1.33v5.87h-1.33zM184.55 270.30h1.33v10.87h-1.33zM185.88 270.30h1.33v10.72h-1.33zM187.21 270.30h1.33v9.58h-1.33zM188.54 270.30h1.33v4.48h-1.33zM189.87 270.30h1.33v9.41h-1.33zM191.20 270.30h1.33v4.45h-1.33zM219.13 270.30h1.33v1.96h-1.33zM224.45 270.30h1.33v5.57h-1.33zM225.78 270.30h1.33v5.66h-1.33zM232.43 270.30h1.33v1.74h-1.33zM240.41 270.30h1.33v10.99h-1.33zM257.70 270.30h1.33v0.03h-1.33zM261.69 270.30h1.33v0.22h-1.33zM264.35 270.30h1.33v0.78h-1.33zM278.98 270.30h1.33v1.42h-1.33zM282.97 270.30h1.33v1.85h-1.33zM285.63 270.30h1.33v4.16h-1.33zM286.96 270.30h1.33v6.51h-1.33zM288.29 270.30h1.33v4.95h-1.33zM289.62 270.30h1.33v4.66h-1.33zM290.95 270.30h1.33v8.18h-1.33zM296.27 270.30h1.33v2.70h-1.33zM297.60 270.30h1.33v12.24h-1.33zM298.93 270.30h1.33v12.91h-1.33zM300.26 270.30h1.33v9.24h-1.33zM302.92 270.30h1.33v4.26h-1.33zM396.02 270.30h1.33v0.54h-1.33zM397.35 270.30h1.33v0.72h-1.33zM398.68 270.30h1.33v1.24h-1.33zM400.01 270.30h1.33v1.37h-1.33zM401.34 270.30h1.33v1.34h-1.33zM404.00 270.30h1.33v1.26h-1.33zM407.99 270.30h1.33v1.07h-1.33zM410.65 270.30h1.33v0.94h-1.33zM418.63 270.30h1.33v5.79h-1.33zM419.96 270.30h1.33v4.82h-1.33zM422.62 270.30h1.33v3.46h-1.33zM433.26 270.30h1.33v0.87h-1.33zM434.59 270.30h1.33v1.53h-1.33zM435.92 270.30h1.33v2.19h-1.33zM437.25 270.30h1.33v3.03h-1.33zM438.58 270.30h1.33v3.87h-1.33zM441.24 270.30h1.33v3.25h-1.33zM442.57 270.30h1.33v4.92h-1.33zM443.90 270.30h1.33v3.94h-1.33zM445.23 270.30h1.33v4.53h-1.33zM446.56 270.30h1.33v15.28h-1.33zM447.89 270.30h1.33v15.50h-1.33zM451.88 270.30h1.33v5.79h-1.33zM453.21 270.30h1.33v4.11h-1.33zM454.54 270.30h1.33v6.17h-1.33zM455.87 270.30h0.43v3.66h-0.43zM110.07 312.85h1.33v0.47h-1.33zM114.06 312.85h1.33v4.50h-1.33zM115.39 312.85h1.33v2.08h-1.33zM116.72 312.85h1.33v5.90h-1.33zM119.38 312.85h1.33v13.48h-1.33zM120.71 312.85h1.33v15.47h-1.33zM122.04 312.85h1.33v4.09h-1.33zM123.37 312.85h1.33v4.96h-1.33zM124.70 312.85h1.33v8.26h-1.33zM126.03 312.85h1.33v5.65h-1.33zM127.36 312.85h1.33v6.72h-1.33zM128.69 312.85h1.33v4.02h-1.33zM130.02 312.85h1.33v9.07h-1.33zM131.35 312.85h1.33v12.36h-1.33zM132.68 312.85h1.33v17.63h-1.33zM134.01 312.85h1.33v11.78h-1.33zM135.34 312.85h1.33v9.62h-1.33zM136.67 312.85h1.33v15.37h-1.33zM138.00 312.85h1.33v10.90h-1.33zM139.33 312.85h1.33v7.95h-1.33zM140.66 312.85h1.33v8.03h-1.33zM141.99 312.85h1.33v13.74h-1.33zM143.32 312.85h1.33v11.64h-1.33zM144.65 312.85h1.33v13.62h-1.33zM145.98 312.85h1.33v11.72h-1.33zM147.31 312.85h1.33v15.66h-1.33zM148.64 312.85h1.33v14.51h-1.33zM149.97 312.85h1.33v18.25h-1.33zM151.30 312.85h1.33v9.70h-1.33zM157.95 312.85h1.33v6.99h-1.33zM159.28 312.85h1.33v8.70h-1.33zM173.91 312.85h1.33v2.21h-1.33zM175.24 312.85h1.33v3.49h-1.33zM176.57 312.85h1.33v2.78h-1.33zM177.90 312.85h1.33v1.62h-1.33zM305.58 312.85h1.33v0.90h-1.33zM317.55 312.85h1.33v1.89h-1.33zM320.21 312.85h1.33v1.23h-1.33zM321.54 312.85h1.33v0.83h-1.33zM376.07 312.85h1.33v0.05h-1.33zM385.38 312.85h1.33v0.73h-1.33zM386.71 312.85h1.33v1.09h-1.33zM389.37 312.85h1.33v1.29h-1.33zM392.03 312.85h1.33v2.15h-1.33zM393.36 312.85h1.33v2.12h-1.33zM396.02 312.85h1.33v5.08h-1.33zM397.35 312.85h1.33v2.02h-1.33zM401.34 312.85h1.33v1.96h-1.33zM402.67 312.85h1.33v1.90h-1.33zM404.00 312.85h1.33v1.57h-1.33zM419.96 312.85h1.33v0.59h-1.33zM421.29 312.85h1.33v1.08h-1.33zM422.62 312.85h1.33v1.42h-1.33zM423.95 312.85h1.33v2.16h-1.33zM426.61 312.85h1.33v0.56h-1.33zM429.27 312.85h1.33v7.06h-1.33zM430.60 312.85h1.33v5.84h-1.33zM431.93 312.85h1.33v5.82h-1.33zM433.26 312.85h1.33v8.63h-1.33zM434.59 312.85h1.33v7.98h-1.33zM435.92 312.85h1.33v7.58h-1.33zM439.91 312.85h1.33v13.70h-1.33zM441.24 312.85h1.33v15.72h-1.33zM442.57 312.85h1.33v10.60h-1.33zM443.90 312.85h1.33v10.28h-1.33zM445.23 312.85h1.33v5.18h-1.33zM446.56 312.85h1.33v14.52h-1.33zM447.89 312.85h1.33v6.05h-1.33zM449.22 312.85h1.33v7.03h-1.33zM86.13 365.07h1.33v23.74h-1.33zM87.46 363.38h1.33v25.24h-1.33zM88.79 365.18h1.33v23.96h-1.33zM153.96 355.40h1.33v1.32h-1.33zM156.62 355.40h1.33v2.62h-1.33zM160.61 355.40h1.33v7.46h-1.33zM161.94 355.40h1.33v11.05h-1.33zM163.27 355.40h1.33v8.62h-1.33zM171.25 358.44h1.33v3.19h-1.33zM181.89 355.40h1.33v1.88h-1.33zM183.22 355.40h1.33v1.70h-1.33zM184.55 355.40h1.33v3.80h-1.33zM185.88 355.40h1.33v2.71h-1.33zM199.18 355.40h1.33v11.05h-1.33zM203.17 355.40h1.33v6.25h-1.33zM204.50 355.40h1.33v3.82h-1.33zM265.68 355.40h1.33v0.44h-1.33zM267.01 355.40h1.33v0.43h-1.33zM268.34 355.40h1.33v1.60h-1.33zM269.67 355.40h1.33v0.87h-1.33zM272.33 355.40h1.33v2.33h-1.33zM273.66 355.40h1.33v4.74h-1.33zM274.99 355.40h1.33v1.92h-1.33zM281.64 355.40h1.33v4.52h-1.33zM282.97 355.40h1.33v6.75h-1.33zM286.96 355.40h1.33v5.44h-1.33zM288.29 355.40h1.33v6.18h-1.33zM292.28 355.40h1.33v7.78h-1.33zM293.61 355.40h1.33v6.53h-1.33zM294.94 355.40h1.33v7.61h-1.33zM301.59 355.40h1.33v5.24h-1.33zM302.92 355.40h1.33v3.82h-1.33zM304.25 355.40h1.33v4.20h-1.33zM310.90 355.40h1.33v2.44h-1.33zM312.23 355.40h1.33v2.13h-1.33zM313.56 355.40h1.33v3.37h-1.33zM316.22 355.40h1.33v8.03h-1.33zM317.55 355.40h1.33v11.38h-1.33zM320.21 355.40h1.33v8.00h-1.33zM325.53 355.40h1.33v7.68h-1.33zM328.19 355.40h1.33v4.34h-1.33zM329.52 355.40h1.33v6.07h-1.33zM330.85 355.40h1.33v9.75h-1.33zM333.51 355.40h1.33v1.03h-1.33zM336.17 355.40h1.33v1.40h-1.33zM341.49 355.40h1.33v1.66h-1.33zM344.15 355.40h1.33v1.26h-1.33zM350.80 355.40h1.33v4.72h-1.33zM352.13 355.40h1.33v3.81h-1.33zM354.79 355.40h1.33v1.69h-1.33zM356.12 355.40h1.33v1.17h-1.33zM378.73 355.40h1.33v7.09h-1.33zM431.93 355.40h1.33v0.63h-1.33zM433.26 355.40h1.33v1.92h-1.33zM434.59 355.40h1.33v3.79h-1.33zM435.92 355.40h1.33v4.45h-1.33zM437.25 355.40h1.33v4.81h-1.33zM438.58 355.40h1.33v5.93h-1.33zM439.91 355.40h1.33v4.18h-1.33zM441.24 355.40h1.33v12.96h-1.33zM442.57 355.40h1.33v15.22h-1.33zM443.90 355.40h1.33v16.30h-1.33zM445.23 355.40h1.33v7.67h-1.33zM446.56 355.40h1.33v7.59h-1.33zM447.89 355.40h1.33v10.83h-1.33zM449.22 355.40h1.33v9.12h-1.33zM451.88 355.40h1.33v23.63h-1.33zM453.21 355.40h1.33v12.93h-1.33zM454.54 355.40h1.33v25.63h-1.33zM455.87 355.40h0.43v12.19h-0.43z"/>
<path fill="#ee5d85" d="M67.51 216.10h1.33v3.91h-1.33zM68.84 217.40h1.33v5.60h-1.33zM70.17 215.62h1.33v5.24h-1.33zM71.50 214.33h1.33v8.67h-1.33zM72.83 218.23h1.33v4.77h-1.33zM74.16 212.70h1.33v6.58h-1.33zM75.49 209.31h1.33v13.69h-1.33zM78.15 207.05h1.33v7.83h-1.33zM79.48 207.58h1.33v4.38h-1.33zM84.80 201.86h1.33v8.50h-1.33zM98.10 221.85h1.33v0.55h-1.33zM103.42 218.33h1.33v1.64h-1.33zM108.74 217.83h1.33v5.17h-1.33zM110.07 217.35h1.33v3.66h-1.33zM111.40 216.86h1.33v1.97h-1.33zM112.73 216.64h1.33v2.99h-1.33zM114.06 216.38h1.33v2.27h-1.33zM115.39 214.29h1.33v2.20h-1.33zM116.72 216.76h1.33v2.00h-1.33zM118.05 213.09h1.33v3.29h-1.33zM119.38 209.01h1.33v5.08h-1.33zM120.71 210.64h1.33v7.01h-1.33zM122.04 213.76h1.33v4.75h-1.33zM123.37 212.10h1.33v4.81h-1.33zM124.70 211.72h1.33v3.89h-1.33zM126.03 214.69h1.33v2.78h-1.33zM127.36 211.80h1.33v4.93h-1.33zM128.69 207.97h1.33v8.65h-1.33zM130.02 209.59h1.33v4.78h-1.33zM131.35 209.97h1.33v6.42h-1.33zM134.01 204.30h1.33v5.99h-1.33zM138.00 206.44h1.33v5.00h-1.33zM141.99 204.49h1.33v11.56h-1.33zM143.32 206.40h1.33v9.73h-1.33zM144.65 205.68h1.33v17.32h-1.33zM145.98 200.03h1.33v10.33h-1.33zM217.80 185.20h1.33v0.14h-1.33zM220.46 193.53h1.33v0.63h-1.33zM221.79 191.00h1.33v3.60h-1.33zM223.12 197.07h1.33v0.04h-1.33zM227.11 185.20h1.33v1.20h-1.33zM233.76 185.20h1.33v2.62h-1.33zM236.42 197.50h1.33v2.16h-1.33zM240.41 200.16h1.33v2.31h-1.33zM241.74 197.29h1.33v0.94h-1.33zM434.59 185.20h1.33v0.52h-1.33zM453.21 185.20h1.33v19.29h-1.33zM454.54 185.20h1.33v18.80h-1.33zM455.87 185.20h0.43v18.71h-0.43zM84.80 257.08h1.33v1.80h-1.33zM86.13 256.50h1.33v3.62h-1.33zM103.42 246.76h1.33v8.31h-1.33zM104.75 244.97h1.33v8.15h-1.33zM106.08 251.22h1.33v3.26h-1.33zM108.74 242.37h1.33v10.61h-1.33zM110.07 243.87h1.33v11.13h-1.33zM123.37 265.14h1.33v0.07h-1.33zM124.70 264.64h1.33v0.12h-1.33zM138.00 250.83h1.33v1.10h-1.33zM329.52 227.75h1.33v0.26h-1.33zM330.85 227.75h1.33v0.29h-1.33zM332.18 227.75h1.33v1.02h-1.33zM333.51 227.75h1.33v1.25h-1.33zM334.84 227.75h1.33v2.84h-1.33zM336.17 227.75h1.33v1.04h-1.33zM337.50 227.75h1.33v1.72h-1.33zM338.83 227.75h1.33v4.52h-1.33zM340.16 227.75h1.33v3.89h-1.33zM341.49 227.75h1.33v2.68h-1.33zM342.82 227.75h1.33v5.33h-1.33zM344.15 227.75h1.33v4.28h-1.33zM345.48 227.75h1.33v4.10h-1.33zM346.81 227.75h1.33v7.58h-1.33zM348.14 227.75h1.33v3.47h-1.33zM349.47 227.75h1.33v5.43h-1.33zM350.80 227.75h1.33v8.33h-1.33zM352.13 227.75h1.33v5.71h-1.33zM354.79 227.75h1.33v2.95h-1.33zM356.12 227.75h1.33v10.94h-1.33zM357.45 227.75h1.33v8.98h-1.33zM358.78 227.75h1.33v11.86h-1.33zM360.11 227.75h1.33v11.93h-1.33zM361.44 227.75h1.33v14.63h-1.33zM362.77 230.48h1.33v13.24h-1.33zM364.10 227.75h1.33v10.25h-1.33zM365.43 227.75h1.33v9.59h-1.33zM366.76 227.75h1.33v14.37h-1.33zM368.09 227.75h1.33v14.63h-1.33zM369.42 227.75h1.33v14.41h-1.33zM370.75 231.04h1.33v15.79h-1.33zM372.08 230.47h1.33v17.56h-1.33zM373.41 227.75h1.33v17.66h-1.33zM374.74 227.75h1.33v12.79h-1.33zM376.07 227.75h1.33v13.18h-1.33zM377.40 227.75h1.33v12.88h-1.33zM378.73 227.75h1.33v12.78h-1.33zM380.06 233.55h1.33v14.87h-1.33zM381.39 227.75h1.33v14.71h-1.33zM382.72 227.75h1.33v10.73h-1.33zM384.05 227.75h1.33v15.43h-1.33zM385.38 229.15h1.33v0.28h-1.33zM406.66 227.75h1.33v0.42h-1.33zM64.85 306.10h1.33v0.39h-1.33zM66.18 297.18h1.33v7.65h-1.33zM67.51 293.64h1.33v10.63h-1.33zM68.84 298.37h1.33v9.73h-1.33zM70.17 290.86h1.33v11.47h-1.33zM326.86 270.30h1.33v1.16h-1.33zM328.19 270.30h1.33v0.86h-1.33zM329.52 270.30h1.33v1.78h-1.33zM330.85 270.30h1.33v0.98h-1.33zM332.18 270.30h1.33v1.34h-1.33zM333.51 270.30h1.33v1.51h-1.33zM334.84 270.30h1.33v5.64h-1.33zM336.17 270.30h1.33v2.61h-1.33zM337.50 270.30h1.33v2.77h-1.33zM340.16 270.30h1.33v2.08h-1.33zM341.49 270.30h1.33v3.16h-1.33zM342.82 270.30h1.33v4.01h-1.33zM344.15 270.30h1.33v3.45h-1.33zM345.48 270.30h1.33v5.13h-1.33zM346.81 270.30h1.33v8.97h-1.33zM348.14 270.30h1.33v6.97h-1.33zM349.47 270.30h1.33v5.41h-1.33zM350.80 270.30h1.33v4.01h-1.33zM352.13 270.30h1.33v3.63h-1.33zM353.46 270.30h1.33v2.64h-1.33zM354.79 270.30h1.33v4.52h-1.33zM357.45 270.30h1.33v12.69h-1.33zM358.78 270.30h1.33v7.26h-1.33zM360.11 270.30h1.33v8.13h-1.33zM361.44 270.30h1.33v6.62h-1.33zM362.77 270.30h1.33v11.46h-1.33zM364.10 270.30h1.33v6.30h-1.33zM365.43 270.30h1.33v3.80h-1.33zM366.76 270.30h1.33v9.96h-1.33zM368.09 270.30h1.33v12.10h-1.33zM180.56 312.85h1.33v2.21h-1.33zM183.22 312.85h1.33v4.35h-1.33zM184.55 312.85h1.33v5.94h-1.33zM188.54 312.85h1.33v4.89h-1.33zM189.87 312.85h1.33v6.35h-1.33zM328.19 312.85h1.33v5.43h-1.33zM329.52 312.85h1.33v6.88h-1.33zM334.84 312.85h1.33v6.28h-1.33zM336.17 312.85h1.33v4.68h-1.33zM338.83 312.85h1.33v4.37h-1.33zM340.16 312.85h1.33v7.78h-1.33zM345.48 312.85h1.33v3.16h-1.33zM346.81 312.85h1.33v3.63h-1.33zM384.05 312.85h1.33v0.42h-1.33zM390.70 312.85h1.33v2.45h-1.33zM392.03 315.00h1.33v1.69h-1.33zM393.36 314.97h1.33v1.69h-1.33zM107.41 386.02h1.33v2.35h-1.33zM110.07 383.22h1.33v2.28h-1.33zM112.73 381.74h1.33v2.77h-1.33zM120.71 381.20h1.33v1.93h-1.33zM122.04 382.24h1.33v4.57h-1.33zM123.37 380.64h1.33v3.64h-1.33zM124.70 375.67h1.33v3.55h-1.33zM128.69 369.61h1.33v3.05h-1.33zM136.67 369.21h1.33v10.88h-1.33z"/>
<path fill="#138c7c" d="M79.48 211.97h1.33v6.68h-1.33zM80.81 205.88h1.33v8.21h-1.33zM82.14 207.05h1.33v6.70h-1.33zM83.47 202.59h1.33v8.96h-1.33zM98.10 222.39h1.33v0.61h-1.33zM99.43 221.96h1.33v0.59h-1.33zM100.76 221.65h1.33v1.35h-1.33zM102.09 220.20h1.33v2.37h-1.33zM103.42 219.97h1.33v3.03h-1.33zM104.75 218.25h1.33v2.60h-1.33zM106.08 218.60h1.33v1.94h-1.33zM107.41 217.67h1.33v2.29h-1.33zM110.07 221.01h1.33v1.99h-1.33zM111.40 218.83h1.33v2.41h-1.33zM112.73 219.64h1.33v3.36h-1.33zM114.06 218.66h1.33v2.81h-1.33zM115.39 216.49h1.33v6.51h-1.33zM116.72 218.76h1.33v4.24h-1.33zM118.05 216.37h1.33v4.89h-1.33zM119.38 214.09h1.33v8.91h-1.33zM120.71 217.65h1.33v4.10h-1.33zM122.04 218.52h1.33v3.07h-1.33zM123.37 216.92h1.33v4.63h-1.33zM124.70 215.61h1.33v7.39h-1.33zM126.03 217.46h1.33v5.54h-1.33zM127.36 216.73h1.33v3.50h-1.33zM128.69 216.62h1.33v6.38h-1.33zM130.02 214.37h1.33v8.63h-1.33zM131.35 216.39h1.33v6.61h-1.33zM132.68 203.44h1.33v19.56h-1.33zM134.01 210.29h1.33v6.97h-1.33zM135.34 204.74h1.33v14.92h-1.33zM136.67 205.18h1.33v17.82h-1.33zM138.00 211.44h1.33v11.56h-1.33zM139.33 203.50h1.33v19.50h-1.33zM140.66 204.95h1.33v18.05h-1.33zM141.99 216.05h1.33v6.95h-1.33zM143.32 216.13h1.33v4.80h-1.33zM145.98 210.36h1.33v12.64h-1.33zM185.88 203.42h1.33v7.09h-1.33zM257.70 185.26h1.33v0.01h-1.33zM260.36 185.69h1.33v0.09h-1.33zM261.69 185.84h1.33v0.30h-1.33zM267.01 187.34h1.33v0.80h-1.33zM268.34 186.61h1.33v0.36h-1.33zM272.33 189.62h1.33v2.66h-1.33zM273.66 185.20h1.33v6.78h-1.33zM276.32 187.39h1.33v1.73h-1.33zM278.98 186.39h1.33v0.19h-1.33zM282.97 191.03h1.33v1.85h-1.33zM284.30 191.49h1.33v2.03h-1.33zM285.63 193.23h1.33v6.73h-1.33zM286.96 193.10h1.33v1.88h-1.33zM288.29 192.17h1.33v3.64h-1.33zM289.62 191.36h1.33v4.95h-1.33zM290.95 189.53h1.33v1.96h-1.33zM292.28 193.00h1.33v3.61h-1.33zM293.61 191.52h1.33v3.31h-1.33zM358.78 186.12h1.33v0.80h-1.33zM373.41 185.20h1.33v2.35h-1.33zM385.38 185.20h1.33v7.90h-1.33zM386.71 185.20h1.33v6.66h-1.33zM84.80 258.88h1.33v2.06h-1.33zM94.11 251.05h1.33v14.50h-1.33zM95.44 251.16h1.33v5.61h-1.33zM96.77 248.64h1.33v8.95h-1.33zM98.10 250.56h1.33v14.99h-1.33zM99.43 246.47h1.33v5.71h-1.33zM100.76 248.86h1.33v5.74h-1.33zM114.06 249.40h1.33v6.25h-1.33zM123.37 265.21h1.33v0.16h-1.33zM124.70 264.77h1.33v0.29h-1.33zM126.03 263.84h1.33v1.16h-1.33zM127.36 262.73h1.33v1.70h-1.33zM128.69 258.90h1.33v5.61h-1.33zM130.02 260.60h1.33v4.00h-1.33zM131.35 256.24h1.33v5.82h-1.33zM132.68 255.13h1.33v6.71h-1.33zM134.01 251.71h1.33v8.53h-1.33zM135.34 252.63h1.33v6.59h-1.33zM136.67 249.79h1.33v15.76h-1.33zM138.00 251.93h1.33v5.32h-1.33zM139.33 247.47h1.33v9.35h-1.33zM140.66 248.56h1.33v10.21h-1.33zM141.99 246.06h1.33v16.28h-1.33zM172.58 261.74h1.33v0.91h-1.33zM175.24 257.48h1.33v4.03h-1.33zM180.56 253.32h1.33v3.68h-1.33zM181.89 255.59h1.33v3.67h-1.33zM184.55 251.60h1.33v1.44h-1.33zM192.53 244.43h1.33v7.96h-1.33zM249.72 227.75h1.33v0.08h-1.33zM255.04 227.75h1.33v0.48h-1.33zM256.37 227.75h1.33v0.60h-1.33zM257.70 227.75h1.33v1.21h-1.33zM259.03 227.75h1.33v1.80h-1.33zM260.36 227.75h1.33v2.21h-1.33zM267.01 227.75h1.33v2.05h-1.33zM268.34 227.75h1.33v2.97h-1.33zM274.99 227.75h1.33v3.05h-1.33zM280.31 227.75h1.33v4.55h-1.33zM281.64 227.75h1.33v4.78h-1.33zM282.97 227.75h1.33v3.58h-1.33zM320.21 227.75h1.33v1.39h-1.33zM321.54 227.75h1.33v4.28h-1.33zM325.53 227.75h1.33v1.16h-1.33zM326.86 229.33h1.33v0.74h-1.33zM431.93 227.75h1.33v0.75h-1.33zM434.59 227.75h1.33v0.79h-1.33zM437.25 227.75h1.33v4.64h-1.33zM438.58 232.11h1.33v3.74h-1.33zM443.90 227.75h1.33v4.74h-1.33zM445.23 227.75h1.33v6.74h-1.33zM446.56 227.75h1.33v14.15h-1.33zM449.22 227.75h1.33v15.58h-1.33zM450.55 227.75h1.33v8.43h-1.33zM454.54 227.75h1.33v4.45h-1.33zM78.15 307.67h1.33v0.13h-1.33zM79.48 307.31h1.33v0.19h-1.33zM82.14 305.94h1.33v1.14h-1.33zM83.47 305.46h1.33v2.64h-1.33zM84.80 305.87h1.33v0.71h-1.33zM87.46 304.28h1.33v1.94h-1.33zM95.44 301.66h1.33v2.64h-1.33zM96.77 303.77h1.33v1.86h-1.33zM98.10 302.17h1.33v2.88h-1.33zM100.76 299.00h1.33v5.44h-1.33zM102.09 295.20h1.33v5.01h-1.33zM104.75 294.85h1.33v4.37h-1.33zM106.08 294.30h1.33v2.32h-1.33zM108.74 292.67h1.33v5.31h-1.33zM110.07 293.25h1.33v6.57h-1.33zM111.40 292.59h1.33v11.98h-1.33zM112.73 291.50h1.33v9.46h-1.33zM123.37 287.29h1.33v9.49h-1.33zM124.70 290.88h1.33v17.22h-1.33zM126.03 289.35h1.33v10.99h-1.33zM127.36 285.75h1.33v8.38h-1.33zM257.70 270.33h1.33v0.02h-1.33zM261.69 270.52h1.33v0.40h-1.33zM264.35 271.08h1.33v1.32h-1.33zM265.68 270.30h1.33v1.63h-1.33zM268.34 270.30h1.33v5.28h-1.33zM269.67 270.30h1.33v3.62h-1.33zM271.00 270.30h1.33v4.89h-1.33zM272.33 270.30h1.33v5.42h-1.33zM273.66 270.30h1.33v5.15h-1.33zM274.99 270.30h1.33v2.97h-1.33zM277.65 270.30h1.33v2.77h-1.33zM278.98 271.72h1.33v3.70h-1.33zM281.64 270.30h1.33v4.43h-1.33zM282.97 272.15h1.33v0.38h-1.33zM285.63 274.46h1.33v1.84h-1.33zM286.96 276.81h1.33v1.76h-1.33zM288.29 275.25h1.33v3.04h-1.33zM289.62 274.96h1.33v2.84h-1.33zM290.95 278.48h1.33v3.69h-1.33zM296.27 273.00h1.33v3.70h-1.33zM300.26 279.54h1.33v8.59h-1.33zM302.92 274.56h1.33v8.06h-1.33zM324.20 270.30h1.33v0.25h-1.33zM326.86 271.46h1.33v1.13h-1.33zM328.19 271.16h1.33v1.44h-1.33zM329.52 272.08h1.33v1.59h-1.33zM330.85 271.28h1.33v1.26h-1.33zM332.18 271.64h1.33v1.70h-1.33zM333.51 271.81h1.33v1.49h-1.33zM338.83 270.30h1.33v6.25h-1.33zM340.16 272.38h1.33v1.65h-1.33zM341.49 273.46h1.33v3.26h-1.33zM342.82 274.31h1.33v4.10h-1.33zM344.15 273.75h1.33v2.30h-1.33zM345.48 275.43h1.33v4.71h-1.33zM349.47 275.71h1.33v2.15h-1.33zM353.46 272.94h1.33v4.20h-1.33zM354.79 274.82h1.33v4.19h-1.33zM356.12 270.30h1.33v11.54h-1.33zM358.78 277.56h1.33v3.05h-1.33zM360.11 278.43h1.33v3.19h-1.33zM361.44 276.92h1.33v5.75h-1.33zM365.43 274.10h1.33v4.75h-1.33zM451.88 276.09h1.33v5.75h-1.33zM68.84 347.52h1.33v1.77h-1.33zM72.83 344.66h1.33v3.61h-1.33zM74.16 345.24h1.33v3.25h-1.33zM75.49 345.51h1.33v2.36h-1.33zM76.82 339.51h1.33v7.45h-1.33zM78.15 339.47h1.33v8.92h-1.33zM79.48 337.48h1.33v9.29h-1.33zM80.81 336.94h1.33v11.11h-1.33zM82.14 331.95h1.33v11.94h-1.33zM83.47 333.99h1.33v16.66h-1.33zM84.80 333.60h1.33v5.43h-1.33zM86.13 335.51h1.33v8.19h-1.33zM87.46 333.71h1.33v9.21h-1.33zM157.95 319.84h1.33v3.43h-1.33zM173.91 315.06h1.33v2.23h-1.33zM175.24 316.34h1.33v0.61h-1.33zM176.57 315.63h1.33v0.75h-1.33zM177.90 314.47h1.33v0.71h-1.33zM191.20 312.85h1.33v0.85h-1.33zM196.52 312.85h1.33v1.80h-1.33zM205.83 312.85h1.33v3.83h-1.33zM212.48 312.85h1.33v3.26h-1.33zM216.47 312.85h1.33v1.00h-1.33zM219.13 312.85h1.33v0.66h-1.33zM220.46 312.85h1.33v0.83h-1.33zM240.41 312.85h1.33v1.80h-1.33zM241.74 312.85h1.33v1.31h-1.33zM243.07 312.85h1.33v0.72h-1.33zM248.39 312.85h1.33v1.14h-1.33zM253.71 312.85h1.33v4.99h-1.33zM255.04 312.85h1.33v3.75h-1.33zM259.03 312.85h1.33v2.24h-1.33zM263.02 312.85h1.33v4.29h-1.33zM264.35 312.85h1.33v6.31h-1.33zM265.68 312.85h1.33v2.71h-1.33zM268.34 312.85h1.33v3.07h-1.33zM269.67 312.85h1.33v8.92h-1.33zM272.33 312.85h1.33v10.42h-1.33zM324.20 312.85h1.33v0.59h-1.33zM328.19 318.28h1.33v2.59h-1.33zM329.52 319.73h1.33v3.12h-1.33zM338.83 317.22h1.33v1.94h-1.33zM353.46 312.85h1.33v3.84h-1.33zM422.62 314.27h1.33v1.57h-1.33zM423.95 315.01h1.33v1.94h-1.33zM425.28 312.85h1.33v1.34h-1.33zM426.61 313.41h1.33v2.34h-1.33zM427.94 312.85h1.33v6.77h-1.33zM442.57 323.45h1.33v7.42h-1.33zM445.23 318.03h1.33v5.97h-1.33zM453.21 312.85h1.33v9.03h-1.33zM454.54 312.85h1.33v10.64h-1.33zM455.87 312.85h0.43v12.82h-0.43zM76.82 391.69h1.33v0.66h-1.33zM82.14 378.08h1.33v7.86h-1.33zM83.47 376.53h1.33v7.80h-1.33zM139.33 391.04h1.33v0.85h-1.33zM140.66 390.88h1.33v0.62h-1.33zM141.99 390.57h1.33v0.91h-1.33zM143.32 389.80h1.33v1.32h-1.33zM144.65 388.35h1.33v2.59h-1.33zM145.98 388.67h1.33v4.53h-1.33zM147.31 390.76h1.33v1.46h-1.33zM148.64 390.63h1.33v1.01h-1.33zM149.97 385.75h1.33v1.11h-1.33zM152.63 377.64h1.33v8.77h-1.33zM153.96 376.25h1.33v6.78h-1.33zM155.29 376.51h1.33v8.82h-1.33zM156.62 374.39h1.33v9.49h-1.33zM157.95 371.36h1.33v10.82h-1.33zM159.28 367.57h1.33v25.63h-1.33zM160.61 371.82h1.33v11.24h-1.33zM163.27 367.58h1.33v11.40h-1.33zM232.43 355.40h1.33v0.42h-1.33zM241.74 355.40h1.33v2.61h-1.33zM248.39 355.40h1.33v1.28h-1.33zM249.72 355.40h1.33v3.10h-1.33zM251.05 355.40h1.33v2.50h-1.33zM252.38 355.40h1.33v5.99h-1.33zM253.71 355.40h1.33v4.00h-1.33zM255.04 355.40h1.33v2.34h-1.33zM257.70 355.40h1.33v6.75h-1.33z"/>
<path fill="#ec1a26" d="M64.85 221.09h1.33v1.91h-1.33zM66.18 218.96h1.33v1.75h-1.33zM67.51 220.00h1.33v3.00h-1.33zM78.15 214.88h1.33v8.12h-1.33zM79.48 218.65h1.33v4.35h-1.33zM80.81 214.09h1.33v8.91h-1.33zM83.47 211.55h1.33v11.45h-1.33zM84.80 210.36h1.33v7.25h-1.33zM96.77 222.53h1.33v0.47h-1.33zM99.43 222.56h1.33v0.44h-1.33zM102.09 222.57h1.33v0.43h-1.33zM104.75 220.85h1.33v2.15h-1.33zM106.08 220.54h1.33v2.46h-1.33zM107.41 219.96h1.33v3.04h-1.33zM111.40 221.23h1.33v1.77h-1.33zM114.06 221.47h1.33v1.53h-1.33zM118.05 221.26h1.33v1.74h-1.33zM120.71 221.75h1.33v1.25h-1.33zM123.37 221.55h1.33v1.45h-1.33zM164.60 222.81h1.33v0.19h-1.33zM165.93 221.10h1.33v1.03h-1.33zM167.26 220.26h1.33v1.30h-1.33zM172.58 212.14h1.33v6.57h-1.33zM175.24 210.26h1.33v7.48h-1.33zM176.57 211.77h1.33v3.10h-1.33zM179.23 204.50h1.33v4.51h-1.33zM181.89 206.78h1.33v2.08h-1.33zM257.70 185.27h1.33v0.01h-1.33zM259.03 185.33h1.33v0.06h-1.33zM260.36 185.79h1.33v0.12h-1.33zM261.69 186.15h1.33v0.15h-1.33zM263.02 185.96h1.33v0.30h-1.33zM267.01 188.14h1.33v0.47h-1.33zM274.99 185.20h1.33v9.25h-1.33zM276.32 189.12h1.33v2.14h-1.33zM277.65 189.74h1.33v1.02h-1.33zM278.98 186.59h1.33v0.41h-1.33zM284.30 193.52h1.33v0.82h-1.33zM290.95 191.49h1.33v0.55h-1.33zM293.61 194.83h1.33v1.55h-1.33zM328.19 185.20h1.33v0.87h-1.33zM329.52 185.20h1.33v1.24h-1.33zM330.85 185.20h1.33v2.44h-1.33zM332.18 185.20h1.33v2.70h-1.33zM333.51 185.20h1.33v3.05h-1.33zM334.84 185.20h1.33v7.38h-1.33zM336.17 185.20h1.33v8.69h-1.33zM337.50 185.20h1.33v10.53h-1.33zM340.16 185.20h1.33v6.73h-1.33zM341.49 185.20h1.33v6.78h-1.33zM342.82 185.20h1.33v7.87h-1.33zM344.15 185.20h1.33v13.79h-1.33zM345.48 185.20h1.33v20.84h-1.33zM350.80 185.20h1.33v0.10h-1.33zM352.13 185.20h1.33v0.25h-1.33zM356.12 185.20h1.33v1.08h-1.33zM357.45 185.20h1.33v0.74h-1.33zM364.10 187.86h1.33v2.33h-1.33zM365.43 185.20h1.33v3.73h-1.33zM366.76 185.20h1.33v3.31h-1.33zM368.09 187.33h1.33v4.05h-1.33zM369.42 185.20h1.33v3.51h-1.33zM376.07 185.20h1.33v3.59h-1.33zM380.06 185.20h1.33v7.64h-1.33zM381.39 190.44h1.33v9.75h-1.33zM382.72 191.26h1.33v8.37h-1.33zM384.05 185.20h1.33v15.48h-1.33zM385.38 193.10h1.33v7.11h-1.33zM393.36 192.08h1.33v10.06h-1.33zM394.69 185.20h1.33v18.40h-1.33zM396.02 188.16h1.33v7.50h-1.33zM398.68 185.20h1.33v4.61h-1.33zM401.34 185.20h1.33v2.12h-1.33zM402.67 185.20h1.33v5.73h-1.33zM422.62 185.20h1.33v0.17h-1.33zM423.95 185.39h1.33v0.39h-1.33zM425.28 185.20h1.33v0.86h-1.33zM429.27 185.20h1.33v0.80h-1.33zM430.60 185.20h1.33v0.67h-1.33zM431.93 185.42h1.33v0.33h-1.33zM433.26 185.20h1.33v0.52h-1.33zM434.59 185.72h1.33v1.50h-1.33zM435.92 185.20h1.33v1.64h-1.33zM438.58 185.20h1.33v1.91h-1.33zM439.91 187.05h1.33v1.79h-1.33zM443.90 186.04h1.33v0.81h-1.33zM445.23 185.20h1.33v1.50h-1.33zM446.56 186.38h1.33v2.48h-1.33zM450.55 185.20h1.33v4.66h-1.33zM451.88 186.51h1.33v3.48h-1.33zM66.18 265.25h1.33v0.30h-1.33zM67.51 264.55h1.33v0.50h-1.33zM68.84 263.44h1.33v1.03h-1.33zM70.17 262.78h1.33v0.95h-1.33zM71.50 261.82h1.33v1.18h-1.33zM72.83 259.69h1.33v5.86h-1.33zM74.16 258.00h1.33v4.14h-1.33zM75.49 259.33h1.33v6.22h-1.33zM80.81 258.93h1.33v1.44h-1.33zM82.14 259.71h1.33v1.78h-1.33zM83.47 258.13h1.33v3.56h-1.33zM107.41 246.52h1.33v6.04h-1.33zM108.74 252.98h1.33v12.57h-1.33zM110.07 255.00h1.33v10.55h-1.33zM123.37 265.37h1.33v0.18h-1.33zM124.70 265.06h1.33v0.49h-1.33zM126.03 265.00h1.33v0.55h-1.33zM127.36 264.43h1.33v1.12h-1.33zM128.69 264.51h1.33v1.04h-1.33zM130.02 264.60h1.33v0.95h-1.33zM131.35 262.05h1.33v3.50h-1.33zM132.68 261.83h1.33v3.72h-1.33zM134.01 260.24h1.33v5.31h-1.33zM135.34 259.22h1.33v6.33h-1.33zM138.00 257.25h1.33v8.30h-1.33zM139.33 256.83h1.33v8.72h-1.33zM140.66 258.77h1.33v6.78h-1.33zM141.99 262.34h1.33v3.21h-1.33zM180.56 257.01h1.33v4.25h-1.33zM181.89 259.26h1.33v4.35h-1.33zM183.22 252.16h1.33v4.66h-1.33zM184.55 253.05h1.33v3.85h-1.33zM185.88 251.80h1.33v3.63h-1.33zM195.19 263.60h1.33v1.40h-1.33zM196.52 263.27h1.33v1.29h-1.33zM197.85 262.58h1.33v1.74h-1.33zM199.18 262.35h1.33v1.76h-1.33zM200.51 262.43h1.33v2.40h-1.33zM201.84 263.54h1.33v1.09h-1.33zM203.17 263.95h1.33v1.00h-1.33zM204.50 262.54h1.33v2.46h-1.33zM205.83 261.17h1.33v4.38h-1.33zM208.49 258.13h1.33v2.53h-1.33zM209.82 258.72h1.33v2.98h-1.33zM211.15 260.18h1.33v2.54h-1.33zM212.48 255.99h1.33v9.56h-1.33zM213.81 255.54h1.33v10.01h-1.33zM215.14 257.28h1.33v5.60h-1.33zM216.47 259.47h1.33v5.33h-1.33zM217.80 257.95h1.33v6.17h-1.33zM219.13 250.96h1.33v14.59h-1.33zM220.46 250.67h1.33v6.91h-1.33zM221.79 251.26h1.33v5.47h-1.33zM223.12 247.17h1.33v13.00h-1.33zM224.45 246.57h1.33v8.69h-1.33zM225.78 244.49h1.33v10.54h-1.33zM227.11 240.58h1.33v17.28h-1.33zM294.94 227.75h1.33v1.21h-1.33zM318.88 227.75h1.33v1.74h-1.33zM320.21 229.14h1.33v1.52h-1.33zM325.53 228.91h1.33v6.10h-1.33zM326.86 230.07h1.33v4.39h-1.33zM330.85 228.04h1.33v0.21h-1.33zM336.17 228.79h1.33v0.79h-1.33zM365.43 237.34h1.33v1.40h-1.33zM374.74 240.54h1.33v2.53h-1.33zM390.70 227.75h1.33v3.53h-1.33zM393.36 227.75h1.33v5.90h-1.33zM394.69 227.75h1.33v3.86h-1.33zM396.02 233.21h1.33v4.56h-1.33zM397.35 232.98h1.33v5.70h-1.33zM402.67 231.20h1.33v11.92h-1.33zM404.00 227.75h1.33v9.74h-1.33zM405.33 227.75h1.33v6.67h-1.33zM406.66 228.17h1.33v11.83h-1.33zM407.99 227.75h1.33v15.51h-1.33zM409.32 227.75h1.33v7.36h-1.33zM410.65 227.75h1.33v8.33h-1.33zM411.98 227.75h1.33v9.61h-1.33zM413.31 227.75h1.33v9.56h-1.33zM427.94 228.21h1.33v0.25h-1.33zM429.27 228.43h1.33v1.05h-1.33zM430.60 227.75h1.33v2.36h-1.33zM431.93 228.50h1.33v1.40h-1.33zM433.26 227.75h1.33v4.19h-1.33zM434.59 228.54h1.33v3.00h-1.33zM435.92 227.75h1.33v5.04h-1.33zM437.25 232.39h1.33v3.74h-1.33zM439.91 227.75h1.33v4.95h-1.33zM441.24 231.92h1.33v3.56h-1.33zM442.57 231.29h1.33v4.60h-1.33zM443.90 232.49h1.33v2.50h-1.33zM445.23 234.49h1.33v6.88h-1.33zM447.89 227.75h1.33v15.34h-1.33zM450.55 236.18h1.33v8.34h-1.33zM451.88 227.75h1.33v16.90h-1.33zM453.21 227.75h1.33v11.11h-1.33zM454.54 232.20h1.33v8.93h-1.33zM455.87 227.75h0.43v15.91h-0.43zM149.97 307.91h1.33v0.19h-1.33zM151.30 307.22h1.33v0.88h-1.33zM152.63 307.29h1.33v0.56h-1.33zM156.62 304.08h1.33v3.07h-1.33zM380.06 270.30h1.33v6.33h-1.33zM381.39 270.30h1.33v14.85h-1.33zM397.35 271.02h1.33v0.52h-1.33zM400.01 271.67h1.33v1.14h-1.33zM401.34 271.64h1.33v1.24h-1.33zM402.67 270.30h1.33v2.51h-1.33zM404.00 271.56h1.33v2.37h-1.33zM405.33 270.30h1.33v2.25h-1.33zM406.66 270.30h1.33v4.73h-1.33zM407.99 271.37h1.33v3.05h-1.33zM409.32 270.30h1.33v5.93h-1.33zM410.65 271.24h1.33v5.34h-1.33zM411.98 270.30h1.33v4.70h-1.33zM413.31 270.30h1.33v4.88h-1.33zM414.64 270.30h1.33v12.28h-1.33zM415.97 270.30h1.33v8.55h-1.33zM417.30 270.30h1.33v13.78h-1.33zM418.63 276.09h1.33v6.60h-1.33zM419.96 275.12h1.33v6.68h-1.33zM421.29 270.30h1.33v14.74h-1.33zM422.62 273.76h1.33v9.83h-1.33zM423.95 270.30h1.33v8.72h-1.33zM426.61 270.30h1.33v11.11h-1.33zM70.17 346.75h1.33v1.43h-1.33zM71.50 346.39h1.33v4.26h-1.33zM72.83 348.28h1.33v2.37h-1.33zM74.16 348.49h1.33v2.16h-1.33zM75.49 347.88h1.33v2.17h-1.33zM76.82 346.96h1.33v3.69h-1.33zM78.15 348.39h1.33v2.26h-1.33zM79.48 346.76h1.33v2.17h-1.33zM80.81 348.05h1.33v2.60h-1.33zM82.14 343.89h1.33v3.85h-1.33zM84.80 339.03h1.33v11.62h-1.33zM86.13 343.69h1.33v6.96h-1.33zM87.46 342.92h1.33v7.73h-1.33zM88.79 330.98h1.33v19.67h-1.33zM123.37 344.90h1.33v2.76h-1.33zM124.70 346.84h1.33v1.85h-1.33zM126.03 347.35h1.33v1.96h-1.33zM127.36 344.46h1.33v3.11h-1.33zM128.69 342.24h1.33v4.72h-1.33zM130.02 343.95h1.33v3.55h-1.33zM131.35 343.90h1.33v4.56h-1.33zM132.68 346.94h1.33v3.71h-1.33zM134.01 340.84h1.33v6.73h-1.33zM135.34 339.11h1.33v9.40h-1.33zM136.67 337.45h1.33v7.91h-1.33zM138.00 337.38h1.33v5.57h-1.33zM139.33 339.86h1.33v7.81h-1.33zM140.66 340.84h1.33v7.36h-1.33zM143.32 343.33h1.33v1.72h-1.33zM144.65 337.23h1.33v13.42h-1.33zM145.98 334.49h1.33v10.16h-1.33zM147.31 332.37h1.33v8.69h-1.33zM148.64 334.47h1.33v6.85h-1.33zM149.97 337.70h1.33v8.06h-1.33zM151.30 336.73h1.33v8.19h-1.33zM180.56 315.06h1.33v1.29h-1.33zM189.87 319.20h1.33v1.72h-1.33zM205.83 316.68h1.33v6.58h-1.33zM207.16 312.85h1.33v9.90h-1.33zM208.49 312.85h1.33v6.33h-1.33zM211.15 312.85h1.33v7.63h-1.33zM212.48 316.11h1.33v7.64h-1.33zM216.47 313.85h1.33v8.16h-1.33zM217.80 312.85h1.33v4.41h-1.33zM219.13 313.51h1.33v5.53h-1.33zM220.46 313.68h1.33v7.48h-1.33zM232.43 312.85h1.33v0.10h-1.33zM233.76 312.85h1.33v0.21h-1.33zM235.09 312.85h1.33v0.66h-1.33zM236.42 312.85h1.33v1.10h-1.33zM237.75 312.85h1.33v1.90h-1.33zM239.08 312.85h1.33v1.50h-1.33zM240.41 314.65h1.33v0.83h-1.33zM245.73 312.85h1.33v3.79h-1.33zM247.06 312.85h1.33v5.07h-1.33zM248.39 313.99h1.33v7.20h-1.33zM249.72 312.85h1.33v8.66h-1.33zM251.05 312.85h1.33v3.51h-1.33zM252.38 312.85h1.33v3.21h-1.33zM256.37 312.85h1.33v4.94h-1.33zM259.03 315.09h1.33v4.76h-1.33zM260.36 312.85h1.33v3.28h-1.33zM261.69 312.85h1.33v4.83h-1.33zM263.02 317.14h1.33v4.91h-1.33zM265.68 315.56h1.33v2.06h-1.33zM267.01 312.85h1.33v7.82h-1.33zM268.34 315.92h1.33v3.68h-1.33zM324.20 313.44h1.33v1.79h-1.33zM346.81 316.48h1.33v2.65h-1.33zM80.81 383.21h1.33v9.99h-1.33zM82.14 385.94h1.33v7.26h-1.33zM83.47 384.34h1.33v8.86h-1.33zM84.80 377.39h1.33v5.91h-1.33zM86.13 388.81h1.33v2.32h-1.33zM87.46 388.62h1.33v2.44h-1.33zM88.79 389.14h1.33v2.25h-1.33zM102.09 390.47h1.33v2.73h-1.33zM103.42 390.00h1.33v1.47h-1.33zM104.75 387.79h1.33v2.47h-1.33zM106.08 385.08h1.33v1.85h-1.33zM108.74 384.83h1.33v2.58h-1.33zM111.40 383.06h1.33v1.74h-1.33zM112.73 384.51h1.33v1.60h-1.33zM115.39 384.78h1.33v3.46h-1.33zM134.01 370.17h1.33v23.03h-1.33zM138.00 369.56h1.33v13.34h-1.33zM207.16 355.40h1.33v0.50h-1.33zM209.82 355.40h1.33v1.01h-1.33zM211.15 355.40h1.33v1.08h-1.33zM212.48 355.40h1.33v1.37h-1.33zM213.81 355.40h1.33v2.61h-1.33zM233.76 355.40h1.33v0.44h-1.33zM235.09 355.40h1.33v0.20h-1.33zM241.74 358.01h1.33v2.09h-1.33zM248.39 356.68h1.33v0.88h-1.33zM249.72 358.50h1.33v2.74h-1.33zM251.05 357.90h1.33v2.32h-1.33zM252.38 361.39h1.33v4.00h-1.33zM253.71 359.40h1.33v3.27h-1.33zM255.04 357.74h1.33v2.40h-1.33zM259.03 355.40h1.33v1.50h-1.33zM265.68 355.84h1.33v0.67h-1.33zM267.01 355.83h1.33v0.24h-1.33zM272.33 357.73h1.33v1.60h-1.33zM274.99 357.32h1.33v0.82h-1.33zM282.97 362.15h1.33v0.76h-1.33zM286.96 360.84h1.33v1.59h-1.33zM288.29 361.58h1.33v4.60h-1.33zM290.95 355.40h1.33v9.72h-1.33zM294.94 363.01h1.33v2.31h-1.33zM301.59 360.64h1.33v7.58h-1.33zM302.92 359.22h1.33v6.43h-1.33zM304.25 359.60h1.33v3.95h-1.33zM305.58 355.40h1.33v9.85h-1.33zM313.56 358.77h1.33v1.24h-1.33zM316.22 363.43h1.33v4.50h-1.33zM320.21 363.40h1.33v6.82h-1.33zM401.34 355.40h1.33v0.90h-1.33zM406.66 355.40h1.33v1.45h-1.33zM407.99 355.40h1.33v1.58h-1.33zM410.65 355.40h1.33v1.87h-1.33zM430.60 355.40h1.33v0.93h-1.33zM431.93 356.03h1.33v1.43h-1.33zM433.26 357.32h1.33v1.79h-1.33zM434.59 359.19h1.33v1.71h-1.33zM435.92 359.85h1.33v1.53h-1.33zM439.91 359.58h1.33v2.97h-1.33zM445.23 363.07h1.33v7.42h-1.33zM446.56 362.99h1.33v7.67h-1.33zM447.89 366.23h1.33v8.31h-1.33zM449.22 364.52h1.33v9.30h-1.33zM450.55 355.40h1.33v19.98h-1.33zM453.21 368.33h1.33v10.80h-1.33zM455.87 367.59h0.43v10.80h-0.43z"/>
<path fill="#9590b1" d="M122.04 221.59h1.33v1.41h-1.33zM135.34 219.66h1.33v3.34h-1.33zM209.82 222.73h1.33v0.26h-1.33zM211.15 221.00h1.33v2.00h-1.33zM217.80 221.05h1.33v1.79h-1.33zM219.13 219.29h1.33v3.40h-1.33zM220.46 220.84h1.33v2.16h-1.33zM223.12 222.92h1.33v0.08h-1.33zM224.45 214.38h1.33v8.62h-1.33zM227.11 211.05h1.33v11.45h-1.33zM229.77 209.39h1.33v12.01h-1.33zM231.10 213.43h1.33v9.57h-1.33zM232.43 212.46h1.33v10.54h-1.33zM233.76 217.85h1.33v5.15h-1.33zM235.09 209.66h1.33v13.34h-1.33zM236.42 210.24h1.33v12.76h-1.33zM240.41 216.40h1.33v6.60h-1.33zM241.74 211.62h1.33v11.38h-1.33zM353.46 185.20h1.33v0.38h-1.33zM360.11 185.20h1.33v2.66h-1.33zM361.44 185.20h1.33v3.28h-1.33zM362.77 185.20h1.33v6.10h-1.33zM364.10 190.20h1.33v2.12h-1.33zM365.43 188.93h1.33v3.97h-1.33zM366.76 188.51h1.33v5.78h-1.33zM368.09 191.39h1.33v4.85h-1.33zM369.42 188.71h1.33v5.95h-1.33zM370.75 185.20h1.33v2.66h-1.33zM373.41 187.55h1.33v2.75h-1.33zM374.74 185.20h1.33v3.02h-1.33zM377.40 188.85h1.33v4.32h-1.33zM378.73 185.20h1.33v13.76h-1.33zM380.06 192.84h1.33v2.12h-1.33zM386.71 191.86h1.33v7.41h-1.33zM388.04 185.20h1.33v7.17h-1.33zM390.70 192.62h1.33v4.57h-1.33zM392.03 185.20h1.33v17.12h-1.33zM397.35 185.20h1.33v6.39h-1.33zM398.68 189.81h1.33v4.83h-1.33zM400.01 185.20h1.33v6.12h-1.33zM401.34 187.32h1.33v2.15h-1.33zM402.67 190.93h1.33v6.74h-1.33zM163.27 265.10h1.33v0.08h-1.33zM164.60 264.31h1.33v0.37h-1.33zM165.93 263.25h1.33v1.04h-1.33zM167.26 262.08h1.33v1.94h-1.33zM168.59 261.72h1.33v2.06h-1.33zM188.54 248.70h1.33v8.18h-1.33zM189.87 246.67h1.33v8.61h-1.33zM191.20 245.82h1.33v19.73h-1.33zM192.53 252.40h1.33v13.15h-1.33zM193.86 264.10h1.33v0.57h-1.33zM196.52 264.57h1.33v0.42h-1.33zM200.51 264.82h1.33v0.73h-1.33zM201.84 264.63h1.33v0.39h-1.33zM203.17 264.95h1.33v0.17h-1.33zM209.82 261.70h1.33v0.51h-1.33zM211.15 262.72h1.33v0.54h-1.33zM215.14 262.89h1.33v0.93h-1.33zM216.47 264.80h1.33v0.32h-1.33zM217.80 264.12h1.33v0.60h-1.33zM221.79 256.73h1.33v0.48h-1.33zM223.12 260.17h1.33v0.67h-1.33zM224.45 255.25h1.33v0.26h-1.33zM225.78 255.03h1.33v0.89h-1.33zM251.05 262.38h1.33v0.41h-1.33zM252.38 261.46h1.33v0.26h-1.33zM255.04 260.50h1.33v1.58h-1.33zM256.37 261.39h1.33v2.13h-1.33zM261.69 258.84h1.33v1.75h-1.33zM263.02 257.96h1.33v3.55h-1.33zM264.35 256.60h1.33v4.56h-1.33zM265.68 257.30h1.33v4.30h-1.33zM267.01 256.52h1.33v3.68h-1.33zM268.34 256.38h1.33v4.66h-1.33zM269.67 254.76h1.33v6.66h-1.33zM271.00 251.53h1.33v10.74h-1.33zM272.33 253.49h1.33v7.96h-1.33zM273.66 253.00h1.33v6.75h-1.33zM274.99 253.19h1.33v5.35h-1.33zM276.32 254.22h1.33v5.16h-1.33zM277.65 255.99h1.33v1.22h-1.33zM280.31 254.43h1.33v2.24h-1.33zM281.64 252.35h1.33v4.76h-1.33zM282.97 251.06h1.33v5.29h-1.33zM284.30 249.69h1.33v8.47h-1.33zM285.63 248.69h1.33v4.40h-1.33zM332.18 228.77h1.33v0.64h-1.33zM333.51 229.00h1.33v0.64h-1.33zM340.16 231.64h1.33v2.02h-1.33zM344.15 232.03h1.33v0.67h-1.33zM345.48 231.85h1.33v4.98h-1.33zM348.14 231.22h1.33v3.22h-1.33zM349.47 233.18h1.33v2.36h-1.33zM352.13 233.46h1.33v3.80h-1.33zM353.46 227.75h1.33v4.97h-1.33zM354.79 230.70h1.33v3.10h-1.33zM357.45 236.73h1.33v2.72h-1.33zM373.41 245.41h1.33v2.38h-1.33zM374.74 243.08h1.33v2.65h-1.33zM376.07 240.93h1.33v4.12h-1.33zM377.40 240.63h1.33v4.70h-1.33zM381.39 242.46h1.33v9.16h-1.33zM382.72 238.48h1.33v6.32h-1.33zM160.61 307.51h1.33v0.59h-1.33zM161.94 306.43h1.33v0.31h-1.33zM165.93 304.57h1.33v1.71h-1.33zM167.26 303.59h1.33v0.97h-1.33zM173.91 297.01h1.33v5.29h-1.33zM175.24 298.64h1.33v2.15h-1.33zM176.57 298.33h1.33v5.41h-1.33zM177.90 297.72h1.33v4.82h-1.33zM180.56 295.32h1.33v4.31h-1.33zM181.89 291.56h1.33v9.00h-1.33zM183.22 294.42h1.33v7.56h-1.33zM184.55 295.18h1.33v7.78h-1.33zM185.88 296.63h1.33v11.47h-1.33zM187.21 292.62h1.33v10.84h-1.33zM188.54 288.46h1.33v11.17h-1.33zM320.21 270.30h1.33v0.09h-1.33zM321.54 270.30h1.33v0.46h-1.33zM322.87 270.30h1.33v0.28h-1.33zM324.20 270.55h1.33v0.46h-1.33zM333.51 273.30h1.33v1.09h-1.33zM336.17 272.91h1.33v2.08h-1.33zM337.50 273.07h1.33v1.88h-1.33zM340.16 274.03h1.33v1.82h-1.33zM344.15 276.06h1.33v1.02h-1.33zM348.14 277.27h1.33v3.54h-1.33zM349.47 277.86h1.33v3.14h-1.33zM350.80 274.31h1.33v4.13h-1.33zM352.13 273.93h1.33v3.71h-1.33zM353.46 277.14h1.33v3.09h-1.33zM354.79 279.01h1.33v4.14h-1.33zM358.78 280.61h1.33v3.90h-1.33zM433.26 271.17h1.33v0.49h-1.33zM434.59 271.83h1.33v0.88h-1.33zM435.92 272.49h1.33v1.35h-1.33zM437.25 273.33h1.33v3.03h-1.33zM438.58 274.17h1.33v4.53h-1.33zM439.91 270.30h1.33v9.13h-1.33zM441.24 273.55h1.33v6.27h-1.33zM442.57 275.22h1.33v4.78h-1.33zM443.90 274.24h1.33v4.78h-1.33zM445.23 274.83h1.33v5.20h-1.33zM449.22 270.30h1.33v17.49h-1.33zM450.55 270.30h1.33v13.69h-1.33zM451.88 281.84h1.33v10.66h-1.33zM453.21 274.41h1.33v5.97h-1.33zM454.54 276.47h1.33v9.85h-1.33zM455.87 273.96h0.43v13.94h-0.43zM305.58 313.75h1.33v1.54h-1.33zM306.91 312.85h1.33v3.02h-1.33zM312.23 312.85h1.33v6.30h-1.33zM317.55 314.74h1.33v6.20h-1.33zM318.88 312.85h1.33v4.05h-1.33zM320.21 314.08h1.33v0.93h-1.33zM321.54 313.68h1.33v1.58h-1.33zM376.07 312.90h1.33v0.08h-1.33zM380.06 312.85h1.33v0.95h-1.33zM381.39 312.85h1.33v2.29h-1.33zM382.72 312.85h1.33v4.25h-1.33zM384.05 313.27h1.33v1.01h-1.33zM385.38 313.58h1.33v1.19h-1.33zM386.71 313.94h1.33v1.95h-1.33zM397.35 314.87h1.33v2.23h-1.33zM398.68 312.85h1.33v2.77h-1.33zM400.01 312.85h1.33v3.17h-1.33zM402.67 314.75h1.33v1.21h-1.33zM404.00 314.42h1.33v2.62h-1.33zM231.10 355.40h1.33v9.63h-1.33zM396.02 355.40h1.33v0.11h-1.33zM400.01 355.40h1.33v1.59h-1.33zM401.34 356.30h1.33v1.54h-1.33zM402.67 355.40h1.33v1.27h-1.33zM405.33 355.40h1.33v1.43h-1.33zM407.99 356.98h1.33v2.20h-1.33zM410.65 357.27h1.33v2.87h-1.33zM411.98 355.40h1.33v4.23h-1.33zM413.31 355.40h1.33v14.37h-1.33zM414.64 355.40h1.33v2.05h-1.33zM415.97 355.40h1.33v5.92h-1.33zM417.30 355.40h1.33v8.67h-1.33zM418.63 355.40h1.33v6.01h-1.33zM419.96 355.40h1.33v10.55h-1.33zM421.29 355.40h1.33v13.86h-1.33zM422.62 355.40h1.33v11.35h-1.33zM423.95 355.40h1.33v8.47h-1.33zM425.28 355.40h1.33v7.89h-1.33z"/>
<path fill="#a6d386" d="M168.59 218.80h1.33v2.05h-1.33zM169.92 216.86h1.33v6.14h-1.33zM171.25 216.77h1.33v2.56h-1.33zM173.91 211.94h1.33v5.17h-1.33zM179.23 209.01h1.33v4.28h-1.33zM180.56 209.73h1.33v7.26h-1.33zM181.89 208.86h1.33v5.17h-1.33zM183.22 203.66h1.33v6.96h-1.33zM184.55 205.53h1.33v6.16h-1.33zM185.88 210.51h1.33v4.23h-1.33zM187.21 201.39h1.33v5.13h-1.33zM209.82 223.00h1.33v0.00h-1.33zM217.80 222.84h1.33v0.16h-1.33zM219.13 222.69h1.33v0.31h-1.33zM227.11 222.50h1.33v0.50h-1.33zM229.77 221.40h1.33v1.60h-1.33zM243.07 220.30h1.33v2.70h-1.33zM244.40 215.13h1.33v7.87h-1.33zM245.73 212.57h1.33v10.43h-1.33zM350.80 185.30h1.33v0.17h-1.33zM352.13 185.45h1.33v0.37h-1.33zM353.46 185.58h1.33v0.77h-1.33zM354.79 185.20h1.33v1.72h-1.33zM356.12 186.28h1.33v1.72h-1.33zM357.45 185.94h1.33v2.45h-1.33zM358.78 186.92h1.33v2.31h-1.33zM360.11 187.86h1.33v2.00h-1.33zM361.44 188.48h1.33v1.62h-1.33zM370.75 187.86h1.33v6.07h-1.33zM373.41 190.30h1.33v4.53h-1.33zM374.74 188.22h1.33v7.56h-1.33zM376.07 188.79h1.33v8.43h-1.33zM377.40 193.16h1.33v5.16h-1.33zM380.06 194.95h1.33v2.07h-1.33zM388.04 192.37h1.33v6.84h-1.33zM390.70 197.19h1.33v5.53h-1.33zM396.02 195.66h1.33v6.79h-1.33zM397.35 191.59h1.33v9.70h-1.33zM398.68 194.63h1.33v8.59h-1.33zM400.01 191.32h1.33v12.30h-1.33zM401.34 189.47h1.33v16.30h-1.33zM402.67 197.67h1.33v10.99h-1.33zM422.62 185.37h1.33v0.88h-1.33zM423.95 185.78h1.33v1.64h-1.33zM425.28 186.06h1.33v2.32h-1.33zM426.61 185.20h1.33v3.82h-1.33zM427.94 185.20h1.33v5.30h-1.33zM429.27 186.00h1.33v4.87h-1.33zM430.60 185.87h1.33v4.66h-1.33zM431.93 185.75h1.33v6.24h-1.33zM433.26 185.72h1.33v7.63h-1.33zM434.59 187.22h1.33v8.63h-1.33zM435.92 186.84h1.33v9.42h-1.33zM437.25 187.61h1.33v10.69h-1.33zM438.58 187.11h1.33v11.60h-1.33zM439.91 188.84h1.33v11.22h-1.33zM441.24 186.81h1.33v13.00h-1.33zM442.57 187.06h1.33v14.47h-1.33zM443.90 186.85h1.33v15.27h-1.33zM445.23 186.70h1.33v16.35h-1.33zM446.56 188.86h1.33v16.38h-1.33zM447.89 185.20h1.33v20.36h-1.33zM449.22 185.20h1.33v20.75h-1.33zM450.55 189.86h1.33v17.73h-1.33zM451.88 189.98h1.33v19.32h-1.33zM167.26 264.02h1.33v0.45h-1.33zM185.88 255.43h1.33v2.09h-1.33zM245.73 264.95h1.33v0.29h-1.33zM247.06 264.63h1.33v0.33h-1.33zM249.72 263.98h1.33v0.63h-1.33zM251.05 262.80h1.33v1.01h-1.33zM252.38 261.72h1.33v1.45h-1.33zM253.71 262.78h1.33v0.62h-1.33zM259.03 259.67h1.33v1.35h-1.33zM260.36 260.02h1.33v1.62h-1.33zM261.69 260.59h1.33v1.36h-1.33zM263.02 261.51h1.33v1.06h-1.33zM265.68 261.60h1.33v3.95h-1.33zM267.01 260.20h1.33v1.68h-1.33zM268.34 261.04h1.33v1.24h-1.33zM269.67 261.42h1.33v1.31h-1.33zM274.99 258.54h1.33v7.01h-1.33zM276.32 259.38h1.33v6.17h-1.33zM277.65 257.21h1.33v5.34h-1.33zM278.98 252.62h1.33v6.24h-1.33zM280.31 256.67h1.33v2.64h-1.33zM285.63 253.09h1.33v5.58h-1.33zM330.85 228.25h1.33v0.22h-1.33zM336.17 229.58h1.33v1.60h-1.33zM337.50 229.47h1.33v2.11h-1.33zM341.49 230.43h1.33v1.75h-1.33zM342.82 233.08h1.33v1.00h-1.33zM344.15 232.70h1.33v1.18h-1.33zM353.46 232.72h1.33v5.17h-1.33zM354.79 233.81h1.33v3.36h-1.33zM357.45 239.45h1.33v2.31h-1.33zM358.78 239.61h1.33v1.89h-1.33zM360.11 239.68h1.33v1.53h-1.33zM364.10 238.00h1.33v3.93h-1.33zM365.43 238.74h1.33v4.54h-1.33zM366.76 242.12h1.33v3.43h-1.33zM368.09 242.38h1.33v6.41h-1.33zM369.42 242.16h1.33v5.61h-1.33zM378.73 240.53h1.33v6.77h-1.33zM382.72 244.80h1.33v9.20h-1.33zM384.05 243.18h1.33v8.64h-1.33zM385.38 229.44h1.33v0.08h-1.33zM386.71 229.35h1.33v1.16h-1.33zM388.04 229.41h1.33v1.33h-1.33zM389.37 228.88h1.33v0.95h-1.33zM392.03 227.75h1.33v10.42h-1.33zM393.36 233.65h1.33v3.91h-1.33zM394.69 231.61h1.33v1.93h-1.33zM398.68 231.49h1.33v3.93h-1.33zM400.01 233.89h1.33v6.97h-1.33zM401.34 227.75h1.33v14.04h-1.33zM402.67 243.11h1.33v4.96h-1.33zM404.00 237.49h1.33v7.31h-1.33zM405.33 234.42h1.33v3.70h-1.33zM409.32 235.11h1.33v3.31h-1.33zM410.65 236.08h1.33v5.35h-1.33zM411.98 237.36h1.33v7.39h-1.33zM413.31 237.31h1.33v9.60h-1.33zM431.93 229.91h1.33v0.66h-1.33zM434.59 231.54h1.33v0.78h-1.33zM439.91 232.70h1.33v2.84h-1.33zM443.90 234.98h1.33v3.32h-1.33zM453.21 238.86h1.33v6.80h-1.33zM454.54 241.13h1.33v5.61h-1.33zM455.87 243.66h0.43v2.97h-0.43zM78.15 307.80h1.33v0.21h-1.33zM79.48 307.50h1.33v0.33h-1.33zM84.80 306.57h1.33v0.54h-1.33zM91.45 301.69h1.33v4.03h-1.33zM92.78 301.41h1.33v4.61h-1.33zM95.44 304.31h1.33v2.50h-1.33zM96.77 305.63h1.33v1.04h-1.33zM102.09 300.21h1.33v4.21h-1.33zM106.08 296.62h1.33v1.83h-1.33zM118.05 288.55h1.33v11.85h-1.33zM119.38 289.60h1.33v7.12h-1.33zM120.71 288.79h1.33v5.17h-1.33zM161.94 306.73h1.33v0.61h-1.33zM163.27 305.06h1.33v1.63h-1.33zM164.60 305.94h1.33v1.70h-1.33zM165.93 306.29h1.33v1.81h-1.33zM167.26 304.56h1.33v1.73h-1.33zM168.59 300.64h1.33v3.60h-1.33zM169.92 302.79h1.33v2.21h-1.33zM172.58 300.67h1.33v4.10h-1.33zM179.23 297.64h1.33v4.96h-1.33zM180.56 299.64h1.33v3.55h-1.33zM184.55 302.96h1.33v5.14h-1.33zM188.54 299.63h1.33v5.22h-1.33zM189.87 289.59h1.33v18.51h-1.33zM191.20 288.14h1.33v11.13h-1.33zM192.53 285.24h1.33v11.76h-1.33zM252.38 307.44h1.33v0.29h-1.33zM253.71 307.09h1.33v0.59h-1.33zM256.37 305.20h1.33v1.28h-1.33zM257.70 305.26h1.33v1.13h-1.33zM259.03 304.63h1.33v3.47h-1.33zM260.36 302.86h1.33v2.09h-1.33zM261.69 307.21h1.33v0.89h-1.33zM263.02 305.36h1.33v2.74h-1.33zM264.35 306.07h1.33v2.03h-1.33zM265.68 305.33h1.33v2.77h-1.33zM268.34 303.68h1.33v3.13h-1.33zM269.67 304.17h1.33v3.93h-1.33zM271.00 305.95h1.33v2.15h-1.33zM272.33 300.36h1.33v1.65h-1.33zM273.66 300.12h1.33v3.11h-1.33zM274.99 307.77h1.33v0.33h-1.33zM276.32 298.76h1.33v3.71h-1.33zM277.65 297.59h1.33v4.65h-1.33zM278.98 290.52h1.33v8.26h-1.33zM280.31 293.11h1.33v6.40h-1.33zM281.64 296.12h1.33v5.71h-1.33zM320.21 270.39h1.33v0.17h-1.33zM322.87 270.58h1.33v0.24h-1.33zM324.20 271.01h1.33v0.65h-1.33zM325.53 270.30h1.33v1.65h-1.33zM328.19 272.61h1.33v0.47h-1.33zM330.85 272.54h1.33v0.42h-1.33zM332.18 273.34h1.33v0.56h-1.33zM350.80 278.44h1.33v2.49h-1.33zM352.13 277.63h1.33v3.38h-1.33zM108.74 348.42h1.33v0.47h-1.33zM110.07 345.84h1.33v1.68h-1.33zM111.40 342.63h1.33v2.93h-1.33zM116.72 331.99h1.33v5.08h-1.33zM118.05 330.85h1.33v10.75h-1.33zM119.38 331.33h1.33v6.63h-1.33zM120.71 329.46h1.33v9.37h-1.33zM126.03 349.32h1.33v1.33h-1.33zM130.02 347.50h1.33v3.15h-1.33zM131.35 348.46h1.33v2.19h-1.33zM140.66 348.19h1.33v2.46h-1.33zM143.32 345.05h1.33v2.38h-1.33zM160.61 348.69h1.33v1.36h-1.33zM163.27 346.81h1.33v0.83h-1.33zM164.60 347.45h1.33v0.64h-1.33zM172.58 341.78h1.33v3.13h-1.33zM173.91 345.87h1.33v0.93h-1.33zM175.24 337.41h1.33v3.07h-1.33zM232.43 312.95h1.33v0.15h-1.33zM233.76 313.06h1.33v0.28h-1.33zM235.09 313.51h1.33v0.90h-1.33zM236.42 313.95h1.33v1.54h-1.33zM237.75 314.75h1.33v1.75h-1.33zM239.08 314.35h1.33v1.40h-1.33zM241.74 314.16h1.33v0.76h-1.33zM243.07 313.57h1.33v2.82h-1.33zM244.40 312.85h1.33v7.75h-1.33zM245.73 316.64h1.33v2.73h-1.33zM247.06 317.92h1.33v3.87h-1.33zM248.39 321.19h1.33v1.16h-1.33zM249.72 321.51h1.33v2.34h-1.33zM251.05 316.36h1.33v1.13h-1.33zM252.38 316.06h1.33v2.42h-1.33zM253.71 317.84h1.33v4.16h-1.33zM255.04 316.60h1.33v5.28h-1.33zM256.37 317.79h1.33v5.77h-1.33zM257.70 312.85h1.33v13.68h-1.33zM259.03 319.85h1.33v5.32h-1.33zM260.36 316.13h1.33v8.28h-1.33zM261.69 317.68h1.33v9.23h-1.33zM263.02 322.05h1.33v8.61h-1.33zM264.35 319.16h1.33v15.81h-1.33zM265.68 317.61h1.33v12.20h-1.33zM267.01 320.67h1.33v9.43h-1.33zM268.34 319.60h1.33v8.77h-1.33zM269.67 321.77h1.33v10.32h-1.33zM271.00 312.85h1.33v19.07h-1.33zM272.33 323.27h1.33v14.82h-1.33zM305.58 315.29h1.33v1.15h-1.33zM306.91 315.87h1.33v1.02h-1.33zM322.87 312.85h1.33v12.01h-1.33zM324.20 315.23h1.33v0.63h-1.33zM334.84 319.13h1.33v4.63h-1.33zM336.17 317.53h1.33v5.00h-1.33zM337.50 312.85h1.33v5.87h-1.33zM338.83 319.15h1.33v4.94h-1.33zM341.49 312.85h1.33v8.19h-1.33zM344.15 312.85h1.33v11.80h-1.33zM345.48 316.01h1.33v12.55h-1.33zM346.81 319.13h1.33v4.71h-1.33zM350.80 312.85h1.33v5.99h-1.33zM353.46 316.69h1.33v9.66h-1.33zM421.29 313.93h1.33v0.37h-1.33zM425.28 314.19h1.33v4.80h-1.33zM426.61 315.74h1.33v3.24h-1.33zM430.60 318.69h1.33v3.20h-1.33zM431.93 318.67h1.33v4.08h-1.33zM433.26 321.48h1.33v3.63h-1.33zM434.59 320.83h1.33v3.71h-1.33zM435.92 320.43h1.33v6.64h-1.33zM437.25 312.85h1.33v15.37h-1.33zM438.58 312.85h1.33v8.32h-1.33zM447.89 318.90h1.33v11.88h-1.33zM449.22 319.88h1.33v15.13h-1.33zM450.55 312.85h1.33v23.73h-1.33zM451.88 312.85h1.33v24.51h-1.33zM453.21 321.88h1.33v15.58h-1.33zM454.54 323.49h1.33v14.94h-1.33zM455.87 325.67h0.43v12.71h-0.43zM181.89 392.70h1.33v0.50h-1.33zM183.22 392.85h1.33v0.35h-1.33zM184.55 392.58h1.33v0.62h-1.33zM185.88 392.58h1.33v0.62h-1.33zM191.20 388.51h1.33v2.97h-1.33zM199.18 383.11h1.33v2.19h-1.33zM203.17 376.13h1.33v3.13h-1.33zM204.50 376.26h1.33v2.32h-1.33zM232.43 355.82h1.33v0.76h-1.33zM233.76 355.84h1.33v0.60h-1.33zM235.09 355.60h1.33v0.24h-1.33zM237.75 355.40h1.33v1.60h-1.33zM241.74 360.10h1.33v3.04h-1.33zM248.39 357.56h1.33v1.13h-1.33zM251.05 360.23h1.33v2.76h-1.33zM255.04 360.14h1.33v4.14h-1.33zM257.70 362.15h1.33v7.03h-1.33zM336.17 356.80h1.33v1.61h-1.33zM337.50 355.40h1.33v2.84h-1.33zM338.83 355.40h1.33v3.19h-1.33zM340.16 355.40h1.33v2.96h-1.33zM341.49 357.06h1.33v1.39h-1.33zM342.82 355.40h1.33v4.37h-1.33zM344.15 356.66h1.33v2.46h-1.33zM345.48 355.40h1.33v3.54h-1.33zM346.81 355.40h1.33v7.21h-1.33zM348.14 355.40h1.33v5.73h-1.33zM349.47 355.40h1.33v11.17h-1.33zM350.80 360.12h1.33v6.49h-1.33zM352.13 359.21h1.33v11.12h-1.33zM353.46 355.40h1.33v4.77h-1.33zM354.79 357.09h1.33v6.18h-1.33zM356.12 356.57h1.33v5.22h-1.33zM357.45 355.40h1.33v4.11h-1.33zM358.78 355.40h1.33v3.74h-1.33zM364.10 355.40h1.33v3.75h-1.33zM365.43 355.40h1.33v5.52h-1.33zM368.09 355.40h1.33v8.32h-1.33zM369.42 355.40h1.33v6.87h-1.33zM370.75 355.40h1.33v4.88h-1.33zM372.08 355.40h1.33v6.54h-1.33zM373.41 355.40h1.33v9.06h-1.33zM374.74 355.40h1.33v6.00h-1.33zM376.07 355.40h1.33v10.68h-1.33zM377.40 355.40h1.33v5.52h-1.33zM396.02 355.51h1.33v0.23h-1.33zM397.35 355.40h1.33v1.07h-1.33zM398.68 355.40h1.33v1.75h-1.33zM400.01 356.99h1.33v1.23h-1.33zM401.34 357.84h1.33v1.44h-1.33zM402.67 356.67h1.33v1.56h-1.33zM404.00 355.40h1.33v6.50h-1.33zM405.33 356.83h1.33v2.20h-1.33zM406.66 356.85h1.33v6.52h-1.33zM407.99 359.18h1.33v5.59h-1.33zM409.32 355.40h1.33v11.04h-1.33zM410.65 360.13h1.33v4.95h-1.33zM411.98 359.63h1.33v4.92h-1.33zM414.64 357.45h1.33v11.17h-1.33zM415.97 361.32h1.33v8.94h-1.33zM417.30 364.07h1.33v7.45h-1.33zM418.63 361.41h1.33v8.66h-1.33zM419.96 365.95h1.33v4.00h-1.33zM422.62 366.75h1.33v6.79h-1.33zM423.95 363.87h1.33v8.18h-1.33zM425.28 363.29h1.33v10.04h-1.33z"/>
<path fill="#f8a01f" d="M74.16 219.28h1.33v3.72h-1.33zM76.82 209.88h1.33v6.65h-1.33zM247.06 221.16h1.33v1.84h-1.33zM255.04 220.66h1.33v2.34h-1.33zM256.37 222.40h1.33v0.60h-1.33zM257.70 220.96h1.33v2.04h-1.33zM259.03 221.20h1.33v1.80h-1.33zM260.36 221.50h1.33v1.50h-1.33zM263.02 220.65h1.33v2.35h-1.33zM264.35 220.40h1.33v2.60h-1.33zM265.68 220.42h1.33v2.58h-1.33zM267.01 221.12h1.33v1.88h-1.33zM268.34 222.01h1.33v0.99h-1.33zM271.00 221.74h1.33v1.26h-1.33zM272.33 220.31h1.33v2.69h-1.33zM273.66 219.11h1.33v3.89h-1.33zM274.99 220.68h1.33v2.32h-1.33zM276.32 219.85h1.33v3.15h-1.33zM278.98 219.16h1.33v3.84h-1.33zM282.97 218.74h1.33v4.26h-1.33zM284.30 207.19h1.33v15.81h-1.33zM285.63 214.50h1.33v8.50h-1.33zM286.96 219.33h1.33v3.67h-1.33zM288.29 206.97h1.33v16.03h-1.33zM289.62 203.76h1.33v19.24h-1.33zM290.95 204.01h1.33v18.99h-1.33zM292.28 201.47h1.33v21.53h-1.33zM293.61 204.13h1.33v18.87h-1.33zM163.27 265.18h1.33v0.37h-1.33zM164.60 264.68h1.33v0.87h-1.33zM165.93 264.30h1.33v1.25h-1.33zM167.26 264.48h1.33v1.07h-1.33zM168.59 263.78h1.33v1.77h-1.33zM169.92 261.87h1.33v3.68h-1.33zM171.25 263.40h1.33v2.15h-1.33zM172.58 262.65h1.33v2.90h-1.33zM173.91 260.15h1.33v5.40h-1.33zM175.24 261.52h1.33v4.03h-1.33zM176.57 257.91h1.33v7.64h-1.33zM177.90 256.37h1.33v9.18h-1.33zM179.23 254.86h1.33v10.69h-1.33zM180.56 261.26h1.33v4.29h-1.33zM181.89 263.61h1.33v1.94h-1.33zM183.22 256.82h1.33v8.73h-1.33zM184.55 256.90h1.33v8.65h-1.33zM185.88 257.52h1.33v8.03h-1.33zM187.21 254.55h1.33v11.00h-1.33zM188.54 256.88h1.33v8.67h-1.33zM189.87 255.28h1.33v10.27h-1.33zM321.54 264.45h1.33v1.10h-1.33zM322.87 263.85h1.33v1.70h-1.33zM325.53 262.70h1.33v2.85h-1.33zM108.74 297.97h1.33v2.96h-1.33zM112.73 300.96h1.33v7.14h-1.33zM126.03 300.34h1.33v7.76h-1.33zM161.94 307.34h1.33v0.76h-1.33zM163.27 306.70h1.33v1.40h-1.33zM164.60 307.64h1.33v0.46h-1.33zM167.26 306.29h1.33v1.81h-1.33zM168.59 304.24h1.33v3.86h-1.33zM169.92 305.01h1.33v3.09h-1.33zM171.25 300.19h1.33v7.91h-1.33zM172.58 304.78h1.33v3.32h-1.33zM173.91 302.30h1.33v5.80h-1.33zM175.24 300.80h1.33v7.30h-1.33zM176.57 303.74h1.33v4.36h-1.33zM177.90 302.54h1.33v5.56h-1.33zM179.23 302.60h1.33v5.50h-1.33zM180.56 303.18h1.33v4.92h-1.33zM181.89 300.55h1.33v7.55h-1.33zM183.22 301.99h1.33v6.11h-1.33zM187.21 303.46h1.33v4.64h-1.33zM188.54 304.85h1.33v3.25h-1.33zM191.20 299.27h1.33v8.83h-1.33zM192.53 297.00h1.33v11.10h-1.33zM252.38 307.74h1.33v0.36h-1.33zM253.71 307.68h1.33v0.42h-1.33zM255.04 306.60h1.33v1.50h-1.33zM256.37 306.48h1.33v1.62h-1.33zM257.70 306.39h1.33v1.71h-1.33zM260.36 304.95h1.33v3.15h-1.33zM268.34 306.81h1.33v1.29h-1.33zM272.33 302.01h1.33v6.09h-1.33zM273.66 303.23h1.33v4.87h-1.33zM276.32 302.47h1.33v5.63h-1.33zM277.65 302.24h1.33v5.86h-1.33zM278.98 298.79h1.33v9.31h-1.33zM280.31 299.52h1.33v8.58h-1.33zM281.64 301.82h1.33v6.28h-1.33zM289.62 308.04h1.33v0.06h-1.33zM290.95 307.90h1.33v0.20h-1.33zM296.27 306.20h1.33v1.90h-1.33zM297.60 306.86h1.33v1.24h-1.33zM298.93 307.89h1.33v0.21h-1.33zM300.26 306.67h1.33v1.43h-1.33zM302.92 303.28h1.33v4.82h-1.33zM304.25 301.82h1.33v6.28h-1.33zM305.58 300.56h1.33v7.54h-1.33zM306.91 301.75h1.33v6.35h-1.33zM308.24 301.32h1.33v6.78h-1.33zM309.57 298.19h1.33v9.91h-1.33zM434.59 272.72h1.33v0.43h-1.33zM443.90 279.02h1.33v2.89h-1.33zM445.23 280.03h1.33v4.36h-1.33zM450.55 283.99h1.33v5.98h-1.33zM453.21 280.38h1.33v10.70h-1.33zM454.54 286.32h1.33v6.29h-1.33zM455.87 287.90h0.43v5.50h-0.43zM70.17 348.18h1.33v1.24h-1.33zM82.14 347.74h1.33v2.91h-1.33zM107.41 350.20h1.33v0.45h-1.33zM108.74 348.89h1.33v1.76h-1.33zM110.07 347.52h1.33v2.20h-1.33zM111.40 345.56h1.33v5.09h-1.33zM112.73 338.17h1.33v6.39h-1.33zM114.06 334.85h1.33v12.52h-1.33zM115.39 334.93h1.33v12.58h-1.33zM116.72 337.07h1.33v13.58h-1.33zM118.05 341.60h1.33v9.05h-1.33zM119.38 337.96h1.33v12.69h-1.33zM120.71 338.83h1.33v11.82h-1.33zM122.04 345.85h1.33v4.80h-1.33zM123.37 347.66h1.33v2.99h-1.33zM124.70 348.68h1.33v1.97h-1.33zM128.69 346.96h1.33v2.34h-1.33zM134.01 347.57h1.33v1.92h-1.33zM135.34 348.51h1.33v2.14h-1.33zM136.67 345.36h1.33v5.29h-1.33zM141.99 342.34h1.33v8.31h-1.33zM143.32 347.42h1.33v3.23h-1.33zM148.64 341.31h1.33v2.48h-1.33zM151.30 344.92h1.33v2.85h-1.33zM160.61 350.05h1.33v0.11h-1.33zM171.25 334.73h1.33v15.92h-1.33zM172.58 344.91h1.33v5.74h-1.33zM173.91 346.81h1.33v2.80h-1.33zM175.24 340.49h1.33v6.25h-1.33zM177.90 328.59h1.33v22.06h-1.33zM183.22 348.52h1.33v2.13h-1.33zM188.54 344.00h1.33v6.65h-1.33zM189.87 346.61h1.33v4.04h-1.33zM191.20 342.98h1.33v3.73h-1.33zM199.18 344.05h1.33v2.73h-1.33zM200.51 344.97h1.33v2.73h-1.33zM205.83 333.74h1.33v9.52h-1.33zM211.15 329.17h1.33v8.12h-1.33zM215.14 332.06h1.33v11.35h-1.33zM216.47 333.69h1.33v12.22h-1.33zM217.80 334.23h1.33v7.27h-1.33zM221.79 338.54h1.33v4.25h-1.33zM140.66 391.50h1.33v1.70h-1.33zM141.99 391.48h1.33v1.72h-1.33zM143.32 391.12h1.33v1.74h-1.33zM144.65 390.93h1.33v1.79h-1.33zM147.31 392.22h1.33v0.98h-1.33zM148.64 391.63h1.33v1.57h-1.33zM149.97 386.86h1.33v5.07h-1.33zM151.30 381.53h1.33v6.89h-1.33zM152.63 386.41h1.33v6.79h-1.33zM153.96 383.03h1.33v6.29h-1.33zM155.29 385.33h1.33v7.87h-1.33zM156.62 383.88h1.33v9.32h-1.33zM157.95 382.18h1.33v11.02h-1.33zM212.48 383.72h1.33v9.48h-1.33zM264.35 355.40h1.33v2.94h-1.33zM267.01 356.07h1.33v0.30h-1.33zM272.33 359.34h1.33v1.20h-1.33zM274.99 358.14h1.33v0.41h-1.33zM281.64 359.92h1.33v1.51h-1.33zM282.97 362.91h1.33v3.87h-1.33zM286.96 362.43h1.33v5.11h-1.33zM288.29 366.19h1.33v5.09h-1.33zM290.95 365.12h1.33v8.87h-1.33zM292.28 363.18h1.33v8.34h-1.33zM293.61 361.93h1.33v6.10h-1.33zM305.58 365.25h1.33v13.60h-1.33zM328.19 359.74h1.33v2.38h-1.33zM330.85 365.15h1.33v5.18h-1.33zM334.84 355.40h1.33v3.29h-1.33zM336.17 358.41h1.33v1.27h-1.33zM337.50 358.24h1.33v1.43h-1.33zM338.83 358.59h1.33v1.54h-1.33zM341.49 358.45h1.33v1.04h-1.33zM346.81 362.61h1.33v2.05h-1.33zM353.46 360.17h1.33v3.15h-1.33zM354.79 363.28h1.33v3.52h-1.33zM356.12 361.79h1.33v2.45h-1.33zM357.45 359.51h1.33v6.75h-1.33zM358.78 359.14h1.33v6.52h-1.33zM360.11 355.40h1.33v13.49h-1.33zM361.44 355.40h1.33v13.21h-1.33zM362.77 355.40h1.33v11.35h-1.33zM364.10 359.15h1.33v3.32h-1.33zM365.43 360.92h1.33v10.00h-1.33zM369.42 362.27h1.33v7.48h-1.33zM370.75 360.28h1.33v5.12h-1.33zM372.08 361.94h1.33v12.17h-1.33zM373.41 364.46h1.33v7.83h-1.33zM374.74 361.40h1.33v5.80h-1.33zM377.40 360.92h1.33v13.50h-1.33zM378.73 362.49h1.33v15.66h-1.33z"/>
<path fill="#5f4a9b" d="M63.52 222.52h1.33v0.48h-1.33zM66.18 220.70h1.33v2.30h-1.33zM70.17 220.85h1.33v2.15h-1.33zM76.82 216.52h1.33v6.48h-1.33zM82.14 213.75h1.33v9.25h-1.33zM84.80 217.61h1.33v5.39h-1.33zM127.36 220.22h1.33v2.78h-1.33zM134.01 217.27h1.33v5.73h-1.33zM143.32 220.93h1.33v2.07h-1.33zM165.93 222.13h1.33v0.87h-1.33zM167.26 221.56h1.33v1.44h-1.33zM168.59 220.86h1.33v2.14h-1.33zM171.25 219.33h1.33v3.67h-1.33zM172.58 218.71h1.33v4.29h-1.33zM173.91 217.12h1.33v5.88h-1.33zM175.24 217.74h1.33v5.26h-1.33zM176.57 214.87h1.33v8.13h-1.33zM177.90 210.30h1.33v12.70h-1.33zM179.23 213.29h1.33v9.71h-1.33zM180.56 216.99h1.33v6.01h-1.33zM181.89 214.03h1.33v8.97h-1.33zM183.22 210.61h1.33v12.39h-1.33zM184.55 211.69h1.33v11.31h-1.33zM185.88 214.74h1.33v8.26h-1.33zM187.21 206.52h1.33v16.48h-1.33zM324.20 222.01h1.33v0.99h-1.33zM325.53 221.00h1.33v2.00h-1.33zM326.86 220.63h1.33v2.37h-1.33zM328.19 219.55h1.33v3.45h-1.33zM329.52 218.56h1.33v4.44h-1.33zM330.85 217.74h1.33v5.26h-1.33zM332.18 217.27h1.33v5.73h-1.33zM333.51 213.98h1.33v9.02h-1.33zM334.84 215.94h1.33v7.06h-1.33zM336.17 215.11h1.33v7.89h-1.33zM337.50 215.03h1.33v7.97h-1.33zM338.83 213.01h1.33v9.99h-1.33zM340.16 212.53h1.33v10.47h-1.33zM341.49 209.25h1.33v13.75h-1.33zM342.82 207.91h1.33v15.09h-1.33zM344.15 211.32h1.33v11.68h-1.33zM345.48 208.04h1.33v14.96h-1.33zM67.51 265.05h1.33v0.50h-1.33zM68.84 264.47h1.33v1.08h-1.33zM70.17 263.73h1.33v1.82h-1.33zM71.50 263.01h1.33v1.49h-1.33zM74.16 262.14h1.33v3.41h-1.33zM76.82 260.63h1.33v4.92h-1.33zM78.15 258.77h1.33v6.78h-1.33zM79.48 261.95h1.33v3.60h-1.33zM80.81 260.37h1.33v5.18h-1.33zM82.14 261.50h1.33v4.05h-1.33zM83.47 261.69h1.33v3.86h-1.33zM84.80 260.94h1.33v4.61h-1.33zM86.13 260.12h1.33v5.43h-1.33zM87.46 254.17h1.33v11.38h-1.33zM88.79 255.60h1.33v9.95h-1.33zM90.12 255.85h1.33v9.70h-1.33zM91.45 251.11h1.33v14.44h-1.33zM92.78 251.33h1.33v14.22h-1.33zM95.44 256.77h1.33v8.78h-1.33zM96.77 257.58h1.33v7.97h-1.33zM99.43 252.18h1.33v7.36h-1.33zM100.76 254.60h1.33v3.90h-1.33zM102.09 245.06h1.33v20.49h-1.33zM103.42 255.06h1.33v10.49h-1.33zM104.75 253.12h1.33v12.43h-1.33zM106.08 254.48h1.33v7.64h-1.33zM107.41 252.57h1.33v12.98h-1.33zM111.40 242.36h1.33v23.19h-1.33zM114.06 255.65h1.33v9.90h-1.33zM427.94 228.46h1.33v0.16h-1.33zM88.79 302.89h1.33v2.94h-1.33zM90.12 300.13h1.33v3.61h-1.33zM92.78 306.03h1.33v2.07h-1.33zM94.11 300.04h1.33v8.06h-1.33zM95.44 306.80h1.33v1.30h-1.33zM102.09 304.42h1.33v3.68h-1.33zM104.75 299.21h1.33v3.71h-1.33zM149.97 308.10h1.33v0.00h-1.33zM152.63 307.85h1.33v0.25h-1.33zM156.62 307.15h1.33v0.95h-1.33zM215.14 307.45h1.33v0.53h-1.33zM216.47 306.99h1.33v0.97h-1.33zM217.80 306.77h1.33v0.76h-1.33zM220.46 305.64h1.33v1.20h-1.33zM221.79 302.84h1.33v2.98h-1.33zM223.12 301.79h1.33v2.87h-1.33zM224.45 298.68h1.33v4.62h-1.33zM225.78 302.03h1.33v6.07h-1.33zM227.11 301.82h1.33v2.67h-1.33zM228.44 296.45h1.33v4.40h-1.33zM229.77 294.52h1.33v13.58h-1.33zM231.10 297.08h1.33v8.77h-1.33zM232.43 292.95h1.33v10.23h-1.33zM233.76 293.41h1.33v6.57h-1.33zM235.09 293.00h1.33v7.95h-1.33zM236.42 294.26h1.33v6.18h-1.33zM237.75 294.71h1.33v2.55h-1.33zM239.08 290.68h1.33v5.04h-1.33zM240.41 287.49h1.33v5.94h-1.33zM397.35 271.54h1.33v0.34h-1.33zM398.68 271.54h1.33v1.28h-1.33zM401.34 272.88h1.33v1.73h-1.33zM402.67 272.81h1.33v3.60h-1.33zM404.00 273.93h1.33v2.05h-1.33zM405.33 272.55h1.33v1.91h-1.33zM406.66 275.03h1.33v1.95h-1.33zM407.99 274.42h1.33v1.77h-1.33zM409.32 276.23h1.33v1.68h-1.33zM410.65 276.58h1.33v3.05h-1.33zM411.98 275.00h1.33v7.17h-1.33zM413.31 275.18h1.33v6.29h-1.33zM415.97 278.85h1.33v3.12h-1.33zM419.96 281.80h1.33v3.12h-1.33zM422.62 283.60h1.33v3.04h-1.33zM423.95 279.02h1.33v10.71h-1.33zM425.28 270.30h1.33v19.79h-1.33zM426.61 281.41h1.33v9.84h-1.33zM58.20 347.67h1.33v2.98h-1.33zM67.51 348.91h1.33v1.20h-1.33zM79.48 348.93h1.33v1.72h-1.33zM110.07 349.73h1.33v0.92h-1.33zM112.73 344.55h1.33v6.10h-1.33zM114.06 347.37h1.33v3.28h-1.33zM115.39 347.52h1.33v3.13h-1.33zM191.20 346.70h1.33v0.42h-1.33zM196.52 346.95h1.33v3.70h-1.33zM205.83 343.26h1.33v2.22h-1.33zM208.49 328.03h1.33v2.50h-1.33zM212.48 330.34h1.33v1.00h-1.33zM219.13 350.10h1.33v0.55h-1.33zM220.46 349.90h1.33v0.75h-1.33zM376.07 312.97h1.33v0.63h-1.33zM377.40 312.85h1.33v1.35h-1.33zM378.73 312.85h1.33v1.27h-1.33zM380.06 313.80h1.33v1.41h-1.33zM381.39 315.14h1.33v2.23h-1.33zM382.72 317.10h1.33v3.42h-1.33zM384.05 314.28h1.33v6.12h-1.33zM385.38 314.77h1.33v7.04h-1.33zM386.71 315.88h1.33v4.55h-1.33zM388.04 312.85h1.33v10.40h-1.33zM389.37 314.14h1.33v10.23h-1.33zM390.70 315.30h1.33v11.24h-1.33zM392.03 316.69h1.33v10.54h-1.33zM393.36 316.66h1.33v12.55h-1.33zM394.69 312.85h1.33v15.98h-1.33zM396.02 317.93h1.33v10.27h-1.33zM397.35 317.10h1.33v11.19h-1.33zM398.68 315.62h1.33v12.65h-1.33zM400.01 316.02h1.33v13.04h-1.33zM401.34 314.81h1.33v15.23h-1.33zM402.67 315.96h1.33v14.67h-1.33zM404.00 317.04h1.33v14.85h-1.33zM76.82 392.35h1.33v0.85h-1.33zM79.48 386.84h1.33v6.36h-1.33zM84.80 383.30h1.33v9.90h-1.33zM86.13 391.13h1.33v2.07h-1.33zM87.46 391.06h1.33v2.14h-1.33zM88.79 391.39h1.33v1.81h-1.33zM99.43 392.52h1.33v0.47h-1.33zM100.76 391.63h1.33v1.57h-1.33zM103.42 391.47h1.33v1.73h-1.33zM104.75 390.26h1.33v2.94h-1.33zM106.08 386.93h1.33v3.85h-1.33zM107.41 388.38h1.33v3.46h-1.33zM108.74 387.41h1.33v3.42h-1.33zM110.07 385.50h1.33v3.98h-1.33zM111.40 384.80h1.33v6.76h-1.33zM112.73 386.11h1.33v7.09h-1.33zM114.06 383.03h1.33v7.65h-1.33zM115.39 388.24h1.33v4.96h-1.33zM116.72 382.77h1.33v6.04h-1.33zM118.05 383.21h1.33v9.99h-1.33zM119.38 381.58h1.33v6.74h-1.33zM120.71 383.13h1.33v7.08h-1.33zM122.04 386.81h1.33v6.39h-1.33zM123.37 384.28h1.33v8.92h-1.33zM124.70 379.22h1.33v13.98h-1.33zM126.03 375.12h1.33v13.41h-1.33zM127.36 374.60h1.33v11.62h-1.33zM128.69 372.65h1.33v7.76h-1.33zM130.02 369.63h1.33v9.62h-1.33zM131.35 369.47h1.33v13.32h-1.33zM132.68 372.67h1.33v9.52h-1.33zM135.34 366.66h1.33v16.16h-1.33zM136.67 380.09h1.33v13.11h-1.33zM138.00 382.89h1.33v10.31h-1.33zM139.33 391.89h1.33v0.77h-1.33zM143.32 392.86h1.33v0.34h-1.33zM144.65 392.73h1.33v0.47h-1.33zM149.97 391.94h1.33v1.26h-1.33zM151.30 388.43h1.33v4.77h-1.33zM153.96 389.33h1.33v3.87h-1.33zM160.61 383.06h1.33v10.14h-1.33zM161.94 368.48h1.33v10.02h-1.33zM164.60 387.30h1.33v5.90h-1.33zM240.41 392.30h1.33v0.72h-1.33zM241.74 391.86h1.33v1.34h-1.33zM248.39 388.93h1.33v1.05h-1.33zM249.72 387.07h1.33v2.51h-1.33zM251.05 383.74h1.33v3.67h-1.33zM252.38 382.62h1.33v7.01h-1.33zM310.90 357.84h1.33v2.28h-1.33zM312.23 357.53h1.33v1.55h-1.33zM318.88 355.40h1.33v12.67h-1.33zM328.19 362.11h1.33v4.60h-1.33zM329.52 361.47h1.33v4.73h-1.33zM344.15 359.12h1.33v1.34h-1.33zM345.48 358.94h1.33v4.49h-1.33zM346.81 364.66h1.33v3.41h-1.33zM348.14 361.13h1.33v3.64h-1.33zM358.78 365.66h1.33v2.10h-1.33zM364.10 362.47h1.33v4.89h-1.33zM366.76 355.40h1.33v16.07h-1.33zM368.09 363.72h1.33v5.89h-1.33zM370.75 365.40h1.33v3.59h-1.33zM374.74 367.20h1.33v5.64h-1.33zM376.07 366.08h1.33v8.58h-1.33zM396.02 355.74h1.33v0.06h-1.33zM402.67 358.24h1.33v1.35h-1.33zM405.33 359.03h1.33v1.54h-1.33zM414.64 368.62h1.33v2.37h-1.33zM431.93 357.46h1.33v0.27h-1.33zM437.25 360.21h1.33v1.86h-1.33zM438.58 361.33h1.33v1.60h-1.33zM439.91 362.54h1.33v1.36h-1.33zM446.56 370.66h1.33v0.92h-1.33zM449.22 373.82h1.33v0.95h-1.33z"/>
<path fill="#f9b68b" d="M71.50 264.50h1.33v1.05h-1.33zM99.43 259.53h1.33v6.02h-1.33zM100.76 258.50h1.33v7.05h-1.33zM106.08 262.12h1.33v3.43h-1.33zM193.86 264.67h1.33v0.88h-1.33zM195.19 265.00h1.33v0.55h-1.33zM196.52 264.98h1.33v0.57h-1.33zM197.85 264.32h1.33v1.23h-1.33zM199.18 264.11h1.33v1.44h-1.33zM201.84 265.02h1.33v0.53h-1.33zM203.17 265.12h1.33v0.43h-1.33zM204.50 265.00h1.33v0.55h-1.33zM207.16 260.48h1.33v5.07h-1.33zM208.49 260.66h1.33v4.89h-1.33zM209.82 262.21h1.33v3.34h-1.33zM211.15 263.25h1.33v2.30h-1.33zM215.14 263.82h1.33v1.73h-1.33zM216.47 265.13h1.33v0.42h-1.33zM217.80 264.72h1.33v0.83h-1.33zM220.46 257.59h1.33v7.96h-1.33zM221.79 257.21h1.33v8.34h-1.33zM223.12 260.84h1.33v4.71h-1.33zM224.45 255.51h1.33v10.04h-1.33zM225.78 255.92h1.33v9.63h-1.33zM227.11 257.86h1.33v7.69h-1.33zM245.73 265.24h1.33v0.31h-1.33zM247.06 264.96h1.33v0.59h-1.33zM248.39 264.07h1.33v1.48h-1.33zM249.72 264.61h1.33v0.94h-1.33zM251.05 263.81h1.33v1.74h-1.33zM252.38 263.17h1.33v2.38h-1.33zM253.71 263.39h1.33v2.16h-1.33zM255.04 262.08h1.33v3.47h-1.33zM256.37 263.52h1.33v2.03h-1.33zM257.70 259.97h1.33v5.58h-1.33zM259.03 261.02h1.33v4.53h-1.33zM260.36 261.64h1.33v3.91h-1.33zM261.69 261.95h1.33v3.60h-1.33zM263.02 262.56h1.33v2.99h-1.33zM264.35 261.16h1.33v4.39h-1.33zM267.01 261.88h1.33v3.67h-1.33zM268.34 262.28h1.33v3.27h-1.33zM269.67 262.73h1.33v2.82h-1.33zM271.00 262.27h1.33v3.28h-1.33zM272.33 261.45h1.33v4.10h-1.33zM273.66 259.75h1.33v5.80h-1.33zM277.65 262.55h1.33v3.00h-1.33zM278.98 258.86h1.33v6.69h-1.33zM280.31 259.31h1.33v6.24h-1.33zM281.64 257.11h1.33v8.44h-1.33zM282.97 256.35h1.33v9.20h-1.33zM284.30 258.15h1.33v7.40h-1.33zM285.63 258.67h1.33v6.88h-1.33zM286.96 261.65h1.33v3.90h-1.33zM289.62 258.03h1.33v7.52h-1.33zM290.95 255.53h1.33v10.02h-1.33zM297.60 257.56h1.33v7.99h-1.33zM298.93 257.76h1.33v7.79h-1.33zM394.69 251.66h1.33v13.89h-1.33zM396.02 258.60h1.33v6.95h-1.33zM397.35 256.20h1.33v9.35h-1.33zM398.68 257.31h1.33v8.24h-1.33zM405.33 256.54h1.33v9.01h-1.33zM406.66 260.07h1.33v5.48h-1.33zM407.99 261.18h1.33v4.37h-1.33zM411.98 264.76h1.33v0.79h-1.33zM64.85 306.49h1.33v1.61h-1.33zM66.18 304.83h1.33v3.27h-1.33zM67.51 304.27h1.33v3.83h-1.33zM70.17 302.33h1.33v5.77h-1.33zM78.15 308.01h1.33v0.09h-1.33zM80.81 306.60h1.33v0.62h-1.33zM99.43 298.56h1.33v3.99h-1.33zM100.76 304.44h1.33v3.66h-1.33zM118.05 300.40h1.33v7.70h-1.33zM120.71 293.96h1.33v5.44h-1.33zM123.37 296.79h1.33v2.90h-1.33zM215.14 307.98h1.33v0.12h-1.33zM216.47 307.95h1.33v0.15h-1.33zM217.80 307.53h1.33v0.57h-1.33zM219.13 304.85h1.33v3.25h-1.33zM220.46 306.85h1.33v1.25h-1.33zM221.79 305.82h1.33v2.28h-1.33zM223.12 304.67h1.33v3.43h-1.33zM224.45 303.30h1.33v4.80h-1.33zM227.11 304.49h1.33v3.61h-1.33zM228.44 300.85h1.33v7.25h-1.33zM231.10 305.86h1.33v2.24h-1.33zM232.43 303.19h1.33v4.91h-1.33zM233.76 299.97h1.33v8.13h-1.33zM235.09 300.96h1.33v7.14h-1.33zM236.42 300.44h1.33v7.66h-1.33zM237.75 297.26h1.33v10.84h-1.33zM239.08 295.72h1.33v12.38h-1.33zM240.41 293.42h1.33v14.68h-1.33zM67.51 350.11h1.33v0.54h-1.33zM68.84 349.29h1.33v1.36h-1.33zM70.17 349.42h1.33v1.23h-1.33zM75.49 350.05h1.33v0.60h-1.33zM127.36 347.57h1.33v3.08h-1.33zM128.69 349.30h1.33v1.35h-1.33zM134.01 349.49h1.33v1.16h-1.33zM138.00 342.95h1.33v7.70h-1.33zM139.33 347.67h1.33v2.98h-1.33zM145.98 344.64h1.33v6.01h-1.33zM147.31 341.06h1.33v9.59h-1.33zM148.64 343.79h1.33v6.86h-1.33zM149.97 345.76h1.33v4.89h-1.33zM151.30 347.77h1.33v2.88h-1.33zM160.61 350.16h1.33v0.49h-1.33zM163.27 347.64h1.33v3.01h-1.33zM164.60 348.10h1.33v2.55h-1.33zM173.91 349.61h1.33v1.04h-1.33zM175.24 346.74h1.33v3.91h-1.33zM191.20 347.12h1.33v3.53h-1.33zM199.18 346.77h1.33v3.88h-1.33zM200.51 347.70h1.33v2.95h-1.33zM204.50 343.59h1.33v7.06h-1.33zM205.83 345.49h1.33v5.16h-1.33zM208.49 330.53h1.33v20.12h-1.33zM211.15 337.29h1.33v13.36h-1.33zM212.48 331.34h1.33v19.31h-1.33zM213.81 339.08h1.33v11.57h-1.33zM215.14 343.41h1.33v7.24h-1.33zM216.47 345.90h1.33v4.75h-1.33zM217.80 341.50h1.33v9.15h-1.33zM221.79 342.80h1.33v7.85h-1.33zM232.43 350.64h1.33v0.01h-1.33zM249.72 348.56h1.33v2.09h-1.33zM251.05 349.22h1.33v1.43h-1.33zM252.38 349.72h1.33v0.61h-1.33zM253.71 348.33h1.33v0.84h-1.33zM256.37 345.40h1.33v2.04h-1.33zM260.36 339.83h1.33v6.99h-1.33zM261.69 338.50h1.33v2.86h-1.33zM265.68 344.87h1.33v2.45h-1.33zM267.01 340.64h1.33v4.69h-1.33zM268.34 335.92h1.33v7.85h-1.33zM269.67 333.22h1.33v7.64h-1.33zM271.00 333.52h1.33v8.64h-1.33zM419.96 313.44h1.33v0.37h-1.33zM421.29 314.30h1.33v0.52h-1.33zM438.58 321.17h1.33v7.71h-1.33zM443.90 323.13h1.33v8.13h-1.33zM445.23 324.01h1.33v6.88h-1.33zM446.56 327.37h1.33v5.64h-1.33zM447.89 330.78h1.33v3.22h-1.33zM240.41 393.02h1.33v0.15h-1.33zM248.39 389.98h1.33v2.07h-1.33zM249.72 389.58h1.33v3.62h-1.33zM251.05 387.41h1.33v5.79h-1.33zM252.38 389.63h1.33v2.38h-1.33zM256.37 377.12h1.33v6.21h-1.33z"/>
<path fill="#7f8a71" d="M79.48 307.83h1.33v0.27h-1.33zM80.81 307.21h1.33v0.89h-1.33zM82.14 307.08h1.33v1.02h-1.33zM84.80 307.11h1.33v0.99h-1.33zM86.13 305.26h1.33v2.84h-1.33zM87.46 306.22h1.33v1.88h-1.33zM88.79 305.83h1.33v2.27h-1.33zM90.12 303.74h1.33v4.36h-1.33zM91.45 305.73h1.33v2.37h-1.33zM96.77 306.66h1.33v1.44h-1.33zM98.10 305.05h1.33v3.05h-1.33zM99.43 302.55h1.33v5.55h-1.33zM103.42 294.18h1.33v13.92h-1.33zM104.75 302.92h1.33v5.18h-1.33zM106.08 298.45h1.33v9.65h-1.33zM107.41 292.95h1.33v15.15h-1.33zM108.74 300.94h1.33v7.16h-1.33zM110.07 299.83h1.33v8.27h-1.33zM111.40 304.57h1.33v3.53h-1.33zM114.06 292.25h1.33v15.85h-1.33zM115.39 287.71h1.33v20.39h-1.33zM116.72 289.21h1.33v18.89h-1.33zM119.38 296.72h1.33v11.38h-1.33zM120.71 299.40h1.33v8.70h-1.33zM122.04 285.45h1.33v22.65h-1.33zM123.37 299.69h1.33v8.41h-1.33zM127.36 294.14h1.33v13.96h-1.33zM300.26 349.64h1.33v1.01h-1.33zM301.59 348.21h1.33v2.44h-1.33zM305.58 345.22h1.33v5.43h-1.33zM306.91 343.41h1.33v7.24h-1.33zM310.90 341.36h1.33v9.29h-1.33zM312.23 342.31h1.33v8.34h-1.33zM313.56 338.00h1.33v12.65h-1.33zM314.89 330.69h1.33v19.96h-1.33zM317.55 336.31h1.33v14.34h-1.33zM318.88 331.77h1.33v18.88h-1.33zM320.21 329.32h1.33v21.33h-1.33zM321.54 346.88h1.33v3.77h-1.33zM322.87 343.15h1.33v7.50h-1.33z"/>
<path fill="#d1582b" d="M252.38 350.33h1.33v0.32h-1.33zM253.71 349.17h1.33v1.48h-1.33zM255.04 348.09h1.33v2.56h-1.33zM256.37 347.44h1.33v3.21h-1.33zM257.70 342.15h1.33v8.50h-1.33zM259.03 341.31h1.33v9.34h-1.33zM260.36 346.82h1.33v3.83h-1.33zM261.69 341.36h1.33v9.29h-1.33zM263.02 338.57h1.33v12.08h-1.33zM264.35 343.54h1.33v7.11h-1.33zM265.68 347.32h1.33v3.33h-1.33zM267.01 345.32h1.33v5.33h-1.33zM268.34 343.77h1.33v6.88h-1.33zM269.67 340.86h1.33v9.79h-1.33zM271.00 342.16h1.33v8.49h-1.33zM272.33 339.22h1.33v11.43h-1.33zM332.18 348.85h1.33v1.80h-1.33zM337.50 345.50h1.33v5.15h-1.33zM341.49 343.91h1.33v6.74h-1.33zM342.82 340.31h1.33v10.34h-1.33zM354.79 342.25h1.33v8.40h-1.33zM357.45 393.09h1.33v0.11h-1.33zM358.78 392.48h1.33v0.72h-1.33zM364.10 387.54h1.33v5.66h-1.33zM365.43 384.37h1.33v8.83h-1.33zM368.09 382.21h1.33v10.99h-1.33zM373.41 379.94h1.33v13.26h-1.33zM374.74 388.96h1.33v4.24h-1.33zM377.40 389.25h1.33v3.95h-1.33zM378.73 381.55h1.33v11.65h-1.33z"/>
<path fill="#55be93" d="M78.15 389.00h1.33v4.20h-1.33zM99.43 392.99h1.33v0.21h-1.33zM106.08 390.78h1.33v2.42h-1.33zM107.41 391.84h1.33v1.36h-1.33zM108.74 390.83h1.33v2.37h-1.33zM110.07 389.48h1.33v3.72h-1.33zM111.40 391.56h1.33v1.64h-1.33zM114.06 390.68h1.33v2.52h-1.33zM116.72 388.81h1.33v4.39h-1.33zM119.38 388.32h1.33v4.88h-1.33zM120.71 390.21h1.33v2.99h-1.33zM126.03 388.52h1.33v4.68h-1.33zM127.36 386.23h1.33v6.97h-1.33zM128.69 380.42h1.33v12.78h-1.33zM130.02 379.26h1.33v13.94h-1.33zM131.35 382.79h1.33v10.41h-1.33zM132.68 382.19h1.33v11.01h-1.33zM135.34 382.82h1.33v10.38h-1.33zM139.33 392.66h1.33v0.54h-1.33zM161.94 378.50h1.33v14.70h-1.33zM163.27 378.98h1.33v14.22h-1.33zM188.54 392.42h1.33v0.78h-1.33zM189.87 390.51h1.33v2.69h-1.33zM191.20 391.48h1.33v1.72h-1.33zM192.53 391.91h1.33v1.29h-1.33zM193.86 392.23h1.33v0.97h-1.33zM195.19 390.26h1.33v2.94h-1.33zM196.52 391.63h1.33v1.57h-1.33zM197.85 390.08h1.33v3.12h-1.33zM199.18 385.30h1.33v7.90h-1.33zM200.51 384.32h1.33v8.88h-1.33zM201.84 380.07h1.33v13.13h-1.33zM203.17 379.26h1.33v13.94h-1.33zM204.50 378.58h1.33v14.62h-1.33zM240.41 393.17h1.33v0.03h-1.33zM248.39 392.06h1.33v1.14h-1.33zM252.38 392.01h1.33v1.19h-1.33zM256.37 383.33h1.33v9.87h-1.33zM264.35 392.53h1.33v0.67h-1.33zM265.68 392.00h1.33v1.20h-1.33zM267.01 392.22h1.33v0.98h-1.33zM268.34 392.07h1.33v1.13h-1.33zM269.67 390.83h1.33v2.37h-1.33zM271.00 389.61h1.33v3.59h-1.33zM276.32 389.36h1.33v3.84h-1.33zM277.65 388.86h1.33v4.34h-1.33zM278.98 389.96h1.33v3.24h-1.33zM280.31 388.16h1.33v5.04h-1.33zM281.64 386.80h1.33v6.40h-1.33zM282.97 388.67h1.33v4.53h-1.33zM284.30 385.76h1.33v7.44h-1.33zM285.63 384.41h1.33v8.79h-1.33zM286.96 385.02h1.33v8.18h-1.33zM288.29 386.56h1.33v6.64h-1.33z"/>
</g>
<text transform="translate(470 201.5) rotate(-90)" font-size="11" text-anchor="middle" fill="#111">K=9</text>
<text transform="translate(470 243.5) rotate(-90)" font-size="11" text-anchor="middle" fill="#111">K=10</text>
<text transform="translate(470 288.0) rotate(-90)" font-size="11" text-anchor="middle" fill="#111">K=11</text>
<text transform="translate(470 330.6) rotate(-90)" font-size="11" text-anchor="middle" fill="#111">K=12</text>
<text transform="translate(470 372.0) rotate(-90)" font-size="11" text-anchor="middle" fill="#111">K=13</text>
</svg>
</body></html>
